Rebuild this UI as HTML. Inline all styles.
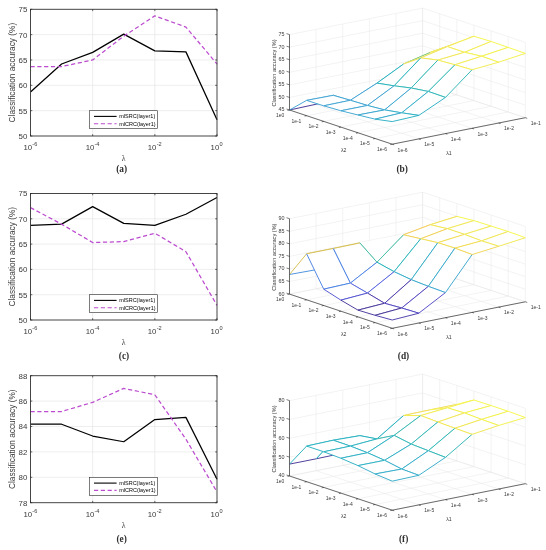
<!DOCTYPE html>
<html><head><meta charset="utf-8"><title>Figure</title>
<style>
html,body{margin:0;padding:0;background:#fff;}
body{width:546px;height:550px;overflow:hidden;}
svg{display:block;filter:blur(0.3px);}
</style></head>
<body>
<svg width="546" height="550" viewBox="0 0 546 550" font-family="'Liberation Sans', Arial, Helvetica, sans-serif">
<rect width="546" height="550" fill="#fff"/>
<line x1="30.5" y1="110.66" x2="217" y2="110.66" stroke="#e3e3e3" stroke-width="0.6"/>
<line x1="30.5" y1="85.32" x2="217" y2="85.32" stroke="#e3e3e3" stroke-width="0.6"/>
<line x1="30.5" y1="59.98" x2="217" y2="59.98" stroke="#e3e3e3" stroke-width="0.6"/>
<line x1="30.5" y1="34.64" x2="217" y2="34.64" stroke="#e3e3e3" stroke-width="0.6"/>
<line x1="92.67" y1="9.3" x2="92.67" y2="136" stroke="#e3e3e3" stroke-width="0.6"/>
<line x1="154.83" y1="9.3" x2="154.83" y2="136" stroke="#e3e3e3" stroke-width="0.6"/>
<polyline points="30.5,91.91 61.58,64.03 92.67,52.38 123.75,34.13 154.83,50.86 185.92,51.87 217,119.78" fill="none" stroke="#000" stroke-width="1.25" stroke-linejoin="round"/>
<polyline points="30.5,66.57 61.58,66.57 92.67,59.98 123.75,36.16 154.83,15.89 185.92,27.04 217,64.03" fill="none" stroke="#bc4ccf" stroke-width="1.25" stroke-dasharray="4.2,2.6" stroke-linejoin="round"/>
<rect x="30.5" y="9.3" width="186.5" height="126.7" fill="none" stroke="#3c3c3c" stroke-width="0.95"/>
<line x1="30.5" y1="136" x2="32.3" y2="136" stroke="#262626" stroke-width="0.7"/>
<line x1="217" y1="136" x2="215.2" y2="136" stroke="#262626" stroke-width="0.7"/>
<text x="27.3" y="138.95" font-size="7.9" text-anchor="end" fill="#3a3a3a">50</text>
<line x1="30.5" y1="110.66" x2="32.3" y2="110.66" stroke="#262626" stroke-width="0.7"/>
<line x1="217" y1="110.66" x2="215.2" y2="110.66" stroke="#262626" stroke-width="0.7"/>
<text x="27.3" y="113.61" font-size="7.9" text-anchor="end" fill="#3a3a3a">55</text>
<line x1="30.5" y1="85.32" x2="32.3" y2="85.32" stroke="#262626" stroke-width="0.7"/>
<line x1="217" y1="85.32" x2="215.2" y2="85.32" stroke="#262626" stroke-width="0.7"/>
<text x="27.3" y="88.27" font-size="7.9" text-anchor="end" fill="#3a3a3a">60</text>
<line x1="30.5" y1="59.98" x2="32.3" y2="59.98" stroke="#262626" stroke-width="0.7"/>
<line x1="217" y1="59.98" x2="215.2" y2="59.98" stroke="#262626" stroke-width="0.7"/>
<text x="27.3" y="62.93" font-size="7.9" text-anchor="end" fill="#3a3a3a">65</text>
<line x1="30.5" y1="34.64" x2="32.3" y2="34.64" stroke="#262626" stroke-width="0.7"/>
<line x1="217" y1="34.64" x2="215.2" y2="34.64" stroke="#262626" stroke-width="0.7"/>
<text x="27.3" y="37.59" font-size="7.9" text-anchor="end" fill="#3a3a3a">70</text>
<line x1="30.5" y1="9.3" x2="32.3" y2="9.3" stroke="#262626" stroke-width="0.7"/>
<line x1="217" y1="9.3" x2="215.2" y2="9.3" stroke="#262626" stroke-width="0.7"/>
<text x="27.3" y="12.25" font-size="7.9" text-anchor="end" fill="#3a3a3a">75</text>
<line x1="30.5" y1="136" x2="30.5" y2="134.2" stroke="#262626" stroke-width="0.7"/>
<line x1="30.5" y1="9.3" x2="30.5" y2="11.1" stroke="#262626" stroke-width="0.7"/>
<text x="27.8" y="150" font-size="7.8" text-anchor="middle" fill="#3a3a3a">10</text>
<text x="32.3" y="146.1" font-size="5.6" text-anchor="start" fill="#3a3a3a">-6</text>
<line x1="92.67" y1="136" x2="92.67" y2="134.2" stroke="#262626" stroke-width="0.7"/>
<line x1="92.67" y1="9.3" x2="92.67" y2="11.1" stroke="#262626" stroke-width="0.7"/>
<text x="89.97" y="150" font-size="7.8" text-anchor="middle" fill="#3a3a3a">10</text>
<text x="94.47" y="146.1" font-size="5.6" text-anchor="start" fill="#3a3a3a">-4</text>
<line x1="154.83" y1="136" x2="154.83" y2="134.2" stroke="#262626" stroke-width="0.7"/>
<line x1="154.83" y1="9.3" x2="154.83" y2="11.1" stroke="#262626" stroke-width="0.7"/>
<text x="152.13" y="150" font-size="7.8" text-anchor="middle" fill="#3a3a3a">10</text>
<text x="156.63" y="146.1" font-size="5.6" text-anchor="start" fill="#3a3a3a">-2</text>
<line x1="217" y1="136" x2="217" y2="134.2" stroke="#262626" stroke-width="0.7"/>
<line x1="217" y1="9.3" x2="217" y2="11.1" stroke="#262626" stroke-width="0.7"/>
<text x="214.9" y="150" font-size="7.8" text-anchor="middle" fill="#3a3a3a">10</text>
<text x="219.4" y="146.1" font-size="5.6" text-anchor="start" fill="#3a3a3a">0</text>
<text x="0" y="0" transform="translate(15.0,72.65) rotate(-90)" font-size="8.3" text-anchor="middle" fill="#3a3a3a">Classification accuracy (%)</text>
<text x="123.6" y="161.2" font-size="7.9" text-anchor="middle" fill="#3a3a3a" font-family="'Liberation Serif', 'Times New Roman', serif">&#955;</text>
<rect x="89.4" y="110.7" width="68" height="17.9" fill="#fff" stroke="#262626" stroke-width="0.6"/>
<line x1="94" y1="116.4" x2="116.6" y2="116.4" stroke="#000" stroke-width="1.1"/>
<line x1="94" y1="123.7" x2="116.6" y2="123.7" stroke="#bc4ccf" stroke-width="1.1" stroke-dasharray="4.2,2.6"/>
<text x="119.2" y="118.4" font-size="5.5" fill="#000">mlSRC(layer1)</text>
<text x="119.2" y="125.7" font-size="5.5" fill="#000">mlCRC(layer1)</text>
<text x="121.6" y="172" font-size="9.4" font-weight="bold" text-anchor="middle" fill="#2e2e2e" font-family="'Liberation Serif', 'Times New Roman', serif">(a)</text>
<line x1="30.5" y1="294.7" x2="217" y2="294.7" stroke="#e3e3e3" stroke-width="0.6"/>
<line x1="30.5" y1="269.4" x2="217" y2="269.4" stroke="#e3e3e3" stroke-width="0.6"/>
<line x1="30.5" y1="244.1" x2="217" y2="244.1" stroke="#e3e3e3" stroke-width="0.6"/>
<line x1="30.5" y1="218.8" x2="217" y2="218.8" stroke="#e3e3e3" stroke-width="0.6"/>
<line x1="92.67" y1="193.5" x2="92.67" y2="320" stroke="#e3e3e3" stroke-width="0.6"/>
<line x1="154.83" y1="193.5" x2="154.83" y2="320" stroke="#e3e3e3" stroke-width="0.6"/>
<polyline points="30.5,225.38 61.58,224.11 92.67,206.66 123.75,223.35 154.83,225.38 185.92,214.25 217,197.55" fill="none" stroke="#000" stroke-width="1.25" stroke-linejoin="round"/>
<polyline points="30.5,207.67 61.58,224.11 92.67,242.58 123.75,241.57 154.83,233.22 185.92,251.69 217,305.33" fill="none" stroke="#bc4ccf" stroke-width="1.25" stroke-dasharray="4.2,2.6" stroke-linejoin="round"/>
<rect x="30.5" y="193.5" width="186.5" height="126.5" fill="none" stroke="#3c3c3c" stroke-width="0.95"/>
<line x1="30.5" y1="320" x2="32.3" y2="320" stroke="#262626" stroke-width="0.7"/>
<line x1="217" y1="320" x2="215.2" y2="320" stroke="#262626" stroke-width="0.7"/>
<text x="27.3" y="322.95" font-size="7.9" text-anchor="end" fill="#3a3a3a">50</text>
<line x1="30.5" y1="294.7" x2="32.3" y2="294.7" stroke="#262626" stroke-width="0.7"/>
<line x1="217" y1="294.7" x2="215.2" y2="294.7" stroke="#262626" stroke-width="0.7"/>
<text x="27.3" y="297.65" font-size="7.9" text-anchor="end" fill="#3a3a3a">55</text>
<line x1="30.5" y1="269.4" x2="32.3" y2="269.4" stroke="#262626" stroke-width="0.7"/>
<line x1="217" y1="269.4" x2="215.2" y2="269.4" stroke="#262626" stroke-width="0.7"/>
<text x="27.3" y="272.35" font-size="7.9" text-anchor="end" fill="#3a3a3a">60</text>
<line x1="30.5" y1="244.1" x2="32.3" y2="244.1" stroke="#262626" stroke-width="0.7"/>
<line x1="217" y1="244.1" x2="215.2" y2="244.1" stroke="#262626" stroke-width="0.7"/>
<text x="27.3" y="247.05" font-size="7.9" text-anchor="end" fill="#3a3a3a">65</text>
<line x1="30.5" y1="218.8" x2="32.3" y2="218.8" stroke="#262626" stroke-width="0.7"/>
<line x1="217" y1="218.8" x2="215.2" y2="218.8" stroke="#262626" stroke-width="0.7"/>
<text x="27.3" y="221.75" font-size="7.9" text-anchor="end" fill="#3a3a3a">70</text>
<line x1="30.5" y1="193.5" x2="32.3" y2="193.5" stroke="#262626" stroke-width="0.7"/>
<line x1="217" y1="193.5" x2="215.2" y2="193.5" stroke="#262626" stroke-width="0.7"/>
<text x="27.3" y="196.45" font-size="7.9" text-anchor="end" fill="#3a3a3a">75</text>
<line x1="30.5" y1="320" x2="30.5" y2="318.2" stroke="#262626" stroke-width="0.7"/>
<line x1="30.5" y1="193.5" x2="30.5" y2="195.3" stroke="#262626" stroke-width="0.7"/>
<text x="27.8" y="334" font-size="7.8" text-anchor="middle" fill="#3a3a3a">10</text>
<text x="32.3" y="330.1" font-size="5.6" text-anchor="start" fill="#3a3a3a">-6</text>
<line x1="92.67" y1="320" x2="92.67" y2="318.2" stroke="#262626" stroke-width="0.7"/>
<line x1="92.67" y1="193.5" x2="92.67" y2="195.3" stroke="#262626" stroke-width="0.7"/>
<text x="89.97" y="334" font-size="7.8" text-anchor="middle" fill="#3a3a3a">10</text>
<text x="94.47" y="330.1" font-size="5.6" text-anchor="start" fill="#3a3a3a">-4</text>
<line x1="154.83" y1="320" x2="154.83" y2="318.2" stroke="#262626" stroke-width="0.7"/>
<line x1="154.83" y1="193.5" x2="154.83" y2="195.3" stroke="#262626" stroke-width="0.7"/>
<text x="152.13" y="334" font-size="7.8" text-anchor="middle" fill="#3a3a3a">10</text>
<text x="156.63" y="330.1" font-size="5.6" text-anchor="start" fill="#3a3a3a">-2</text>
<line x1="217" y1="320" x2="217" y2="318.2" stroke="#262626" stroke-width="0.7"/>
<line x1="217" y1="193.5" x2="217" y2="195.3" stroke="#262626" stroke-width="0.7"/>
<text x="214.9" y="334" font-size="7.8" text-anchor="middle" fill="#3a3a3a">10</text>
<text x="219.4" y="330.1" font-size="5.6" text-anchor="start" fill="#3a3a3a">0</text>
<text x="0" y="0" transform="translate(15.0,256.75) rotate(-90)" font-size="8.3" text-anchor="middle" fill="#3a3a3a">Classification accuracy (%)</text>
<text x="123.6" y="345.2" font-size="7.9" text-anchor="middle" fill="#3a3a3a" font-family="'Liberation Serif', 'Times New Roman', serif">&#955;</text>
<rect x="89.4" y="294.7" width="68" height="17.9" fill="#fff" stroke="#262626" stroke-width="0.6"/>
<line x1="94" y1="300.4" x2="116.6" y2="300.4" stroke="#000" stroke-width="1.1"/>
<line x1="94" y1="307.7" x2="116.6" y2="307.7" stroke="#bc4ccf" stroke-width="1.1" stroke-dasharray="4.2,2.6"/>
<text x="119.2" y="302.4" font-size="5.5" fill="#000">mlSRC(layer1)</text>
<text x="119.2" y="309.7" font-size="5.5" fill="#000">mlCRC(layer1)</text>
<text x="124" y="359" font-size="9.4" font-weight="bold" text-anchor="middle" fill="#2e2e2e" font-family="'Liberation Serif', 'Times New Roman', serif">(c)</text>
<line x1="30.5" y1="477.3" x2="217" y2="477.3" stroke="#e3e3e3" stroke-width="0.6"/>
<line x1="30.5" y1="451.9" x2="217" y2="451.9" stroke="#e3e3e3" stroke-width="0.6"/>
<line x1="30.5" y1="426.5" x2="217" y2="426.5" stroke="#e3e3e3" stroke-width="0.6"/>
<line x1="30.5" y1="401.1" x2="217" y2="401.1" stroke="#e3e3e3" stroke-width="0.6"/>
<line x1="92.67" y1="375.7" x2="92.67" y2="502.7" stroke="#e3e3e3" stroke-width="0.6"/>
<line x1="154.83" y1="375.7" x2="154.83" y2="502.7" stroke="#e3e3e3" stroke-width="0.6"/>
<polyline points="30.5,424.21 61.58,424.21 92.67,436.02 123.75,441.74 154.83,419.51 185.92,417.36 217,479.33" fill="none" stroke="#000" stroke-width="1.25" stroke-linejoin="round"/>
<polyline points="30.5,411.51 61.58,411.51 92.67,402.37 123.75,388.4 154.83,394.75 185.92,439.2 217,491.91" fill="none" stroke="#bc4ccf" stroke-width="1.25" stroke-dasharray="4.2,2.6" stroke-linejoin="round"/>
<rect x="30.5" y="375.7" width="186.5" height="127" fill="none" stroke="#3c3c3c" stroke-width="0.95"/>
<line x1="30.5" y1="502.7" x2="32.3" y2="502.7" stroke="#262626" stroke-width="0.7"/>
<line x1="217" y1="502.7" x2="215.2" y2="502.7" stroke="#262626" stroke-width="0.7"/>
<text x="27.3" y="505.65" font-size="7.9" text-anchor="end" fill="#3a3a3a">78</text>
<line x1="30.5" y1="477.3" x2="32.3" y2="477.3" stroke="#262626" stroke-width="0.7"/>
<line x1="217" y1="477.3" x2="215.2" y2="477.3" stroke="#262626" stroke-width="0.7"/>
<text x="27.3" y="480.25" font-size="7.9" text-anchor="end" fill="#3a3a3a">80</text>
<line x1="30.5" y1="451.9" x2="32.3" y2="451.9" stroke="#262626" stroke-width="0.7"/>
<line x1="217" y1="451.9" x2="215.2" y2="451.9" stroke="#262626" stroke-width="0.7"/>
<text x="27.3" y="454.85" font-size="7.9" text-anchor="end" fill="#3a3a3a">82</text>
<line x1="30.5" y1="426.5" x2="32.3" y2="426.5" stroke="#262626" stroke-width="0.7"/>
<line x1="217" y1="426.5" x2="215.2" y2="426.5" stroke="#262626" stroke-width="0.7"/>
<text x="27.3" y="429.45" font-size="7.9" text-anchor="end" fill="#3a3a3a">84</text>
<line x1="30.5" y1="401.1" x2="32.3" y2="401.1" stroke="#262626" stroke-width="0.7"/>
<line x1="217" y1="401.1" x2="215.2" y2="401.1" stroke="#262626" stroke-width="0.7"/>
<text x="27.3" y="404.05" font-size="7.9" text-anchor="end" fill="#3a3a3a">86</text>
<line x1="30.5" y1="375.7" x2="32.3" y2="375.7" stroke="#262626" stroke-width="0.7"/>
<line x1="217" y1="375.7" x2="215.2" y2="375.7" stroke="#262626" stroke-width="0.7"/>
<text x="27.3" y="378.65" font-size="7.9" text-anchor="end" fill="#3a3a3a">88</text>
<line x1="30.5" y1="502.7" x2="30.5" y2="500.9" stroke="#262626" stroke-width="0.7"/>
<line x1="30.5" y1="375.7" x2="30.5" y2="377.5" stroke="#262626" stroke-width="0.7"/>
<text x="27.8" y="516.7" font-size="7.8" text-anchor="middle" fill="#3a3a3a">10</text>
<text x="32.3" y="512.8" font-size="5.6" text-anchor="start" fill="#3a3a3a">-6</text>
<line x1="92.67" y1="502.7" x2="92.67" y2="500.9" stroke="#262626" stroke-width="0.7"/>
<line x1="92.67" y1="375.7" x2="92.67" y2="377.5" stroke="#262626" stroke-width="0.7"/>
<text x="89.97" y="516.7" font-size="7.8" text-anchor="middle" fill="#3a3a3a">10</text>
<text x="94.47" y="512.8" font-size="5.6" text-anchor="start" fill="#3a3a3a">-4</text>
<line x1="154.83" y1="502.7" x2="154.83" y2="500.9" stroke="#262626" stroke-width="0.7"/>
<line x1="154.83" y1="375.7" x2="154.83" y2="377.5" stroke="#262626" stroke-width="0.7"/>
<text x="152.13" y="516.7" font-size="7.8" text-anchor="middle" fill="#3a3a3a">10</text>
<text x="156.63" y="512.8" font-size="5.6" text-anchor="start" fill="#3a3a3a">-2</text>
<line x1="217" y1="502.7" x2="217" y2="500.9" stroke="#262626" stroke-width="0.7"/>
<line x1="217" y1="375.7" x2="217" y2="377.5" stroke="#262626" stroke-width="0.7"/>
<text x="214.9" y="516.7" font-size="7.8" text-anchor="middle" fill="#3a3a3a">10</text>
<text x="219.4" y="512.8" font-size="5.6" text-anchor="start" fill="#3a3a3a">0</text>
<text x="0" y="0" transform="translate(15.0,439.2) rotate(-90)" font-size="8.3" text-anchor="middle" fill="#3a3a3a">Classification accuracy (%)</text>
<text x="123.6" y="527.6" font-size="7.9" text-anchor="middle" fill="#3a3a3a" font-family="'Liberation Serif', 'Times New Roman', serif">&#955;</text>
<rect x="89.4" y="477.4" width="68" height="17.9" fill="#fff" stroke="#262626" stroke-width="0.6"/>
<line x1="94" y1="483.1" x2="116.6" y2="483.1" stroke="#000" stroke-width="1.1"/>
<line x1="94" y1="490.4" x2="116.6" y2="490.4" stroke="#bc4ccf" stroke-width="1.1" stroke-dasharray="4.2,2.6"/>
<text x="119.2" y="485.1" font-size="5.5" fill="#000">mlSRC(layer1)</text>
<text x="119.2" y="492.4" font-size="5.5" fill="#000">mlCRC(layer1)</text>
<text x="121.6" y="542" font-size="9.4" font-weight="bold" text-anchor="middle" fill="#2e2e2e" font-family="'Liberation Serif', 'Times New Roman', serif">(e)</text>
<line x1="289.5" y1="110" x2="289.5" y2="34.6" stroke="#e6e6e6" stroke-width="0.5"/>
<line x1="316.12" y1="104.7" x2="316.12" y2="29.3" stroke="#e6e6e6" stroke-width="0.5"/>
<line x1="342.74" y1="99.4" x2="342.74" y2="24" stroke="#e6e6e6" stroke-width="0.5"/>
<line x1="369.36" y1="94.1" x2="369.36" y2="18.7" stroke="#e6e6e6" stroke-width="0.5"/>
<line x1="395.98" y1="88.8" x2="395.98" y2="13.4" stroke="#e6e6e6" stroke-width="0.5"/>
<line x1="422.6" y1="83.5" x2="422.6" y2="8.1" stroke="#e6e6e6" stroke-width="0.5"/>
<line x1="289.5" y1="110" x2="422.6" y2="83.5" stroke="#e6e6e6" stroke-width="0.5"/>
<line x1="289.5" y1="97.43" x2="422.6" y2="70.93" stroke="#e6e6e6" stroke-width="0.5"/>
<line x1="289.5" y1="84.87" x2="422.6" y2="58.37" stroke="#e6e6e6" stroke-width="0.5"/>
<line x1="289.5" y1="72.3" x2="422.6" y2="45.8" stroke="#e6e6e6" stroke-width="0.5"/>
<line x1="289.5" y1="59.73" x2="422.6" y2="33.23" stroke="#e6e6e6" stroke-width="0.5"/>
<line x1="289.5" y1="47.17" x2="422.6" y2="20.67" stroke="#e6e6e6" stroke-width="0.5"/>
<line x1="289.5" y1="34.6" x2="422.6" y2="8.1" stroke="#e6e6e6" stroke-width="0.5"/>
<line x1="422.6" y1="83.5" x2="422.6" y2="8.1" stroke="#e6e6e6" stroke-width="0.5"/>
<line x1="439.72" y1="89.2" x2="439.72" y2="13.8" stroke="#e6e6e6" stroke-width="0.5"/>
<line x1="456.84" y1="94.9" x2="456.84" y2="19.5" stroke="#e6e6e6" stroke-width="0.5"/>
<line x1="473.96" y1="100.6" x2="473.96" y2="25.2" stroke="#e6e6e6" stroke-width="0.5"/>
<line x1="491.08" y1="106.3" x2="491.08" y2="30.9" stroke="#e6e6e6" stroke-width="0.5"/>
<line x1="508.2" y1="112" x2="508.2" y2="36.6" stroke="#e6e6e6" stroke-width="0.5"/>
<line x1="525.32" y1="117.7" x2="525.32" y2="42.3" stroke="#e6e6e6" stroke-width="0.5"/>
<line x1="422.6" y1="83.5" x2="525.32" y2="117.7" stroke="#e6e6e6" stroke-width="0.5"/>
<line x1="422.6" y1="70.93" x2="525.32" y2="105.13" stroke="#e6e6e6" stroke-width="0.5"/>
<line x1="422.6" y1="58.37" x2="525.32" y2="92.57" stroke="#e6e6e6" stroke-width="0.5"/>
<line x1="422.6" y1="45.8" x2="525.32" y2="80" stroke="#e6e6e6" stroke-width="0.5"/>
<line x1="422.6" y1="33.23" x2="525.32" y2="67.43" stroke="#e6e6e6" stroke-width="0.5"/>
<line x1="422.6" y1="20.67" x2="525.32" y2="54.87" stroke="#e6e6e6" stroke-width="0.5"/>
<line x1="422.6" y1="8.1" x2="525.32" y2="42.3" stroke="#e6e6e6" stroke-width="0.5"/>
<line x1="289.5" y1="110" x2="392.22" y2="144.2" stroke="#e6e6e6" stroke-width="0.5"/>
<line x1="316.12" y1="104.7" x2="418.84" y2="138.9" stroke="#e6e6e6" stroke-width="0.5"/>
<line x1="342.74" y1="99.4" x2="445.46" y2="133.6" stroke="#e6e6e6" stroke-width="0.5"/>
<line x1="369.36" y1="94.1" x2="472.08" y2="128.3" stroke="#e6e6e6" stroke-width="0.5"/>
<line x1="395.98" y1="88.8" x2="498.7" y2="123" stroke="#e6e6e6" stroke-width="0.5"/>
<line x1="422.6" y1="83.5" x2="525.32" y2="117.7" stroke="#e6e6e6" stroke-width="0.5"/>
<line x1="289.5" y1="110" x2="422.6" y2="83.5" stroke="#e6e6e6" stroke-width="0.5"/>
<line x1="306.62" y1="115.7" x2="439.72" y2="89.2" stroke="#e6e6e6" stroke-width="0.5"/>
<line x1="323.74" y1="121.4" x2="456.84" y2="94.9" stroke="#e6e6e6" stroke-width="0.5"/>
<line x1="340.86" y1="127.1" x2="473.96" y2="100.6" stroke="#e6e6e6" stroke-width="0.5"/>
<line x1="357.98" y1="132.8" x2="491.08" y2="106.3" stroke="#e6e6e6" stroke-width="0.5"/>
<line x1="375.1" y1="138.5" x2="508.2" y2="112" stroke="#e6e6e6" stroke-width="0.5"/>
<line x1="392.22" y1="144.2" x2="525.32" y2="117.7" stroke="#e6e6e6" stroke-width="0.5"/>
<path d="M395.98,88.8 L422.6,83.5 L439.72,87.94ZM395.98,88.8 L439.72,87.94 L413.1,93.24Z" fill="#fff" stroke="#fff" stroke-width="0.3"/>
<line x1="395.98" y1="88.8" x2="422.6" y2="83.5" stroke="#3d2b93" stroke-width="0.9"/>
<line x1="413.1" y1="93.24" x2="439.72" y2="87.94" stroke="#4233a7" stroke-width="0.9"/>
<line x1="395.98" y1="88.8" x2="413.1" y2="93.24" stroke="#4233a7" stroke-width="0.9"/>
<line x1="422.6" y1="83.5" x2="439.72" y2="87.94" stroke="#4233a7" stroke-width="0.9"/>
<path d="M369.36,94.1 L395.98,88.8 L413.1,93.24ZM369.36,94.1 L413.1,93.24 L386.48,98.54Z" fill="#fff" stroke="#fff" stroke-width="0.3"/>
<line x1="369.36" y1="94.1" x2="395.98" y2="88.8" stroke="#3d2b93" stroke-width="0.9"/>
<line x1="386.48" y1="98.54" x2="413.1" y2="93.24" stroke="#4233a7" stroke-width="0.9"/>
<line x1="369.36" y1="94.1" x2="386.48" y2="98.54" stroke="#4233a7" stroke-width="0.9"/>
<line x1="395.98" y1="88.8" x2="413.1" y2="93.24" stroke="#4233a7" stroke-width="0.9"/>
<path d="M413.1,93.24 L456.84,42.87 L439.72,87.94ZM413.1,93.24 L430.22,52.45 L456.84,42.87Z" fill="#fff" stroke="#fff" stroke-width="0.3"/>
<line x1="413.1" y1="93.24" x2="439.72" y2="87.94" stroke="#4233a7" stroke-width="0.9"/>
<line x1="430.22" y1="52.45" x2="456.84" y2="42.87" stroke="#f1d44d" stroke-width="0.9"/>
<line x1="413.1" y1="93.24" x2="430.22" y2="52.45" stroke="#f1d44d" stroke-width="0.9"/>
<line x1="439.72" y1="87.94" x2="456.84" y2="42.87" stroke="#eee04a" stroke-width="0.9"/>
<path d="M342.74,99.4 L369.36,94.1 L386.48,98.54ZM342.74,99.4 L386.48,98.54 L359.86,104.35Z" fill="#fff" stroke="#fff" stroke-width="0.3"/>
<line x1="342.74" y1="99.4" x2="369.36" y2="94.1" stroke="#3d2b93" stroke-width="0.9"/>
<line x1="359.86" y1="104.35" x2="386.48" y2="98.54" stroke="#402f9d" stroke-width="0.9"/>
<line x1="342.74" y1="99.4" x2="359.86" y2="104.35" stroke="#402f9d" stroke-width="0.9"/>
<line x1="369.36" y1="94.1" x2="386.48" y2="98.54" stroke="#4233a7" stroke-width="0.9"/>
<path d="M386.48,98.54 L430.22,52.45 L413.1,93.24ZM386.48,98.54 L403.6,64.03 L430.22,52.45Z" fill="#fff" stroke="#fff" stroke-width="0.3"/>
<line x1="386.48" y1="98.54" x2="413.1" y2="93.24" stroke="#4233a7" stroke-width="0.9"/>
<line x1="403.6" y1="64.03" x2="430.22" y2="52.45" stroke="#7cc571" stroke-width="0.9"/>
<line x1="386.48" y1="98.54" x2="403.6" y2="64.03" stroke="#7cc571" stroke-width="0.9"/>
<line x1="413.1" y1="93.24" x2="430.22" y2="52.45" stroke="#f1d44d" stroke-width="0.9"/>
<path d="M316.12,104.2 L342.74,99.4 L359.86,104.35ZM316.12,104.2 L333.24,95.32 L359.86,104.35Z" fill="#fff" stroke="#fff" stroke-width="0.3"/>
<line x1="316.12" y1="104.2" x2="342.74" y2="99.4" stroke="#3d2b93" stroke-width="0.9"/>
<line x1="333.24" y1="95.32" x2="359.86" y2="104.35" stroke="#349ed0" stroke-width="0.9"/>
<line x1="316.12" y1="104.2" x2="333.24" y2="95.32" stroke="#349ed0" stroke-width="0.9"/>
<line x1="342.74" y1="99.4" x2="359.86" y2="104.35" stroke="#402f9d" stroke-width="0.9"/>
<path d="M430.22,52.45 L473.96,36.26 L456.84,42.87ZM430.22,52.45 L473.96,36.26 L447.34,46.59Z" fill="#fff" stroke="#fff" stroke-width="0.3"/>
<line x1="430.22" y1="52.45" x2="456.84" y2="42.87" stroke="#f1d44d" stroke-width="0.9"/>
<line x1="447.34" y1="46.59" x2="473.96" y2="36.26" stroke="#f0eb45" stroke-width="0.9"/>
<line x1="430.22" y1="52.45" x2="447.34" y2="46.59" stroke="#f0eb45" stroke-width="0.9"/>
<line x1="456.84" y1="42.87" x2="473.96" y2="36.26" stroke="#f4f63d" stroke-width="0.9"/>
<path d="M359.86,104.35 L403.6,64.03 L386.48,98.54ZM359.86,104.35 L376.98,83.15 L403.6,64.03Z" fill="#fff" stroke="#fff" stroke-width="0.3"/>
<line x1="359.86" y1="104.35" x2="386.48" y2="98.54" stroke="#402f9d" stroke-width="0.9"/>
<line x1="376.98" y1="83.15" x2="403.6" y2="64.03" stroke="#1badbc" stroke-width="0.9"/>
<line x1="359.86" y1="104.35" x2="376.98" y2="83.15" stroke="#1badbc" stroke-width="0.9"/>
<line x1="386.48" y1="98.54" x2="403.6" y2="64.03" stroke="#7cc571" stroke-width="0.9"/>
<path d="M289.5,110 L333.24,95.32 L316.12,104.2ZM289.5,110 L306.62,100.37 L333.24,95.32Z" fill="#fff" stroke="#fff" stroke-width="0.3"/>
<line x1="289.5" y1="110" x2="316.12" y2="104.2" stroke="#3d2b93" stroke-width="0.9"/>
<line x1="306.62" y1="100.37" x2="333.24" y2="95.32" stroke="#349ed0" stroke-width="0.9"/>
<line x1="289.5" y1="110" x2="306.62" y2="100.37" stroke="#349ed0" stroke-width="0.9"/>
<line x1="316.12" y1="104.2" x2="333.24" y2="95.32" stroke="#349ed0" stroke-width="0.9"/>
<path d="M403.6,64.03 L430.22,52.45 L447.34,46.59ZM403.6,64.03 L447.34,46.59 L420.72,57.92Z" fill="#fff" stroke="#fff" stroke-width="0.3"/>
<line x1="403.6" y1="64.03" x2="430.22" y2="52.45" stroke="#7cc571" stroke-width="0.9"/>
<line x1="420.72" y1="57.92" x2="447.34" y2="46.59" stroke="#eee04a" stroke-width="0.9"/>
<line x1="403.6" y1="64.03" x2="420.72" y2="57.92" stroke="#eee04a" stroke-width="0.9"/>
<line x1="430.22" y1="52.45" x2="447.34" y2="46.59" stroke="#f0eb45" stroke-width="0.9"/>
<path d="M333.24,95.32 L376.98,83.15 L359.86,104.35ZM333.24,95.32 L376.98,83.15 L350.36,100.27Z" fill="#fff" stroke="#fff" stroke-width="0.3"/>
<line x1="333.24" y1="95.32" x2="359.86" y2="104.35" stroke="#349ed0" stroke-width="0.9"/>
<line x1="350.36" y1="100.27" x2="376.98" y2="83.15" stroke="#349ed0" stroke-width="0.9"/>
<line x1="333.24" y1="95.32" x2="350.36" y2="100.27" stroke="#349ed0" stroke-width="0.9"/>
<line x1="359.86" y1="104.35" x2="376.98" y2="83.15" stroke="#1badbc" stroke-width="0.9"/>
<path d="M447.34,46.59 L473.96,36.26 L491.08,41.46ZM447.34,46.59 L491.08,41.46 L464.46,52.29Z" fill="#fff" stroke="#fff" stroke-width="0.3"/>
<line x1="447.34" y1="46.59" x2="473.96" y2="36.26" stroke="#f0eb45" stroke-width="0.9"/>
<line x1="464.46" y1="52.29" x2="491.08" y2="41.46" stroke="#f0eb45" stroke-width="0.9"/>
<line x1="447.34" y1="46.59" x2="464.46" y2="52.29" stroke="#f0eb45" stroke-width="0.9"/>
<line x1="473.96" y1="36.26" x2="491.08" y2="41.46" stroke="#f4f63d" stroke-width="0.9"/>
<path d="M376.98,83.15 L403.6,64.03 L420.72,57.92ZM376.98,83.15 L420.72,57.92 L394.1,85.84Z" fill="#fff" stroke="#fff" stroke-width="0.3"/>
<line x1="376.98" y1="83.15" x2="403.6" y2="64.03" stroke="#1badbc" stroke-width="0.9"/>
<line x1="394.1" y1="85.84" x2="420.72" y2="57.92" stroke="#1cb0b7" stroke-width="0.9"/>
<line x1="376.98" y1="83.15" x2="394.1" y2="85.84" stroke="#1cb0b7" stroke-width="0.9"/>
<line x1="403.6" y1="64.03" x2="420.72" y2="57.92" stroke="#eee04a" stroke-width="0.9"/>
<path d="M306.62,100.37 L333.24,95.32 L350.36,100.27ZM306.62,100.37 L350.36,100.27 L323.74,105.82Z" fill="#fff" stroke="#fff" stroke-width="0.3"/>
<line x1="306.62" y1="100.37" x2="333.24" y2="95.32" stroke="#349ed0" stroke-width="0.9"/>
<line x1="323.74" y1="105.82" x2="350.36" y2="100.27" stroke="#349ed0" stroke-width="0.9"/>
<line x1="306.62" y1="100.37" x2="323.74" y2="105.82" stroke="#349ed0" stroke-width="0.9"/>
<line x1="333.24" y1="95.32" x2="350.36" y2="100.27" stroke="#349ed0" stroke-width="0.9"/>
<path d="M420.72,57.92 L447.34,46.59 L464.46,52.29ZM420.72,57.92 L464.46,52.29 L437.84,60.1Z" fill="#fff" stroke="#fff" stroke-width="0.3"/>
<line x1="420.72" y1="57.92" x2="447.34" y2="46.59" stroke="#eee04a" stroke-width="0.9"/>
<line x1="437.84" y1="60.1" x2="464.46" y2="52.29" stroke="#efe548" stroke-width="0.9"/>
<line x1="420.72" y1="57.92" x2="437.84" y2="60.1" stroke="#efe548" stroke-width="0.9"/>
<line x1="447.34" y1="46.59" x2="464.46" y2="52.29" stroke="#f0eb45" stroke-width="0.9"/>
<path d="M350.36,100.27 L376.98,83.15 L394.1,85.84ZM350.36,100.27 L394.1,85.84 L367.48,105.46Z" fill="#fff" stroke="#fff" stroke-width="0.3"/>
<line x1="350.36" y1="100.27" x2="376.98" y2="83.15" stroke="#349ed0" stroke-width="0.9"/>
<line x1="367.48" y1="105.46" x2="394.1" y2="85.84" stroke="#349ed0" stroke-width="0.9"/>
<line x1="350.36" y1="100.27" x2="367.48" y2="105.46" stroke="#349ed0" stroke-width="0.9"/>
<line x1="376.98" y1="83.15" x2="394.1" y2="85.84" stroke="#1cb0b7" stroke-width="0.9"/>
<path d="M464.46,52.29 L491.08,41.46 L508.2,47.41ZM464.46,52.29 L508.2,47.41 L481.58,56.23Z" fill="#fff" stroke="#fff" stroke-width="0.3"/>
<line x1="464.46" y1="52.29" x2="491.08" y2="41.46" stroke="#f0eb45" stroke-width="0.9"/>
<line x1="481.58" y1="56.23" x2="508.2" y2="47.41" stroke="#f2f042" stroke-width="0.9"/>
<line x1="464.46" y1="52.29" x2="481.58" y2="56.23" stroke="#f2f042" stroke-width="0.9"/>
<line x1="491.08" y1="41.46" x2="508.2" y2="47.41" stroke="#f4f63d" stroke-width="0.9"/>
<path d="M394.1,85.84 L420.72,57.92 L437.84,60.1ZM394.1,85.84 L437.84,60.1 L411.22,88.02Z" fill="#fff" stroke="#fff" stroke-width="0.3"/>
<line x1="394.1" y1="85.84" x2="420.72" y2="57.92" stroke="#1cb0b7" stroke-width="0.9"/>
<line x1="411.22" y1="88.02" x2="437.84" y2="60.1" stroke="#24b2b2" stroke-width="0.9"/>
<line x1="394.1" y1="85.84" x2="411.22" y2="88.02" stroke="#24b2b2" stroke-width="0.9"/>
<line x1="420.72" y1="57.92" x2="437.84" y2="60.1" stroke="#efe548" stroke-width="0.9"/>
<path d="M323.74,105.82 L350.36,100.27 L367.48,105.46ZM323.74,105.82 L367.48,105.46 L340.86,110.76Z" fill="#fff" stroke="#fff" stroke-width="0.3"/>
<line x1="323.74" y1="105.82" x2="350.36" y2="100.27" stroke="#349ed0" stroke-width="0.9"/>
<line x1="340.86" y1="110.76" x2="367.48" y2="105.46" stroke="#349ed0" stroke-width="0.9"/>
<line x1="323.74" y1="105.82" x2="340.86" y2="110.76" stroke="#349ed0" stroke-width="0.9"/>
<line x1="350.36" y1="100.27" x2="367.48" y2="105.46" stroke="#349ed0" stroke-width="0.9"/>
<path d="M437.84,60.1 L464.46,52.29 L481.58,56.23ZM437.84,60.1 L481.58,56.23 L454.96,64.79Z" fill="#fff" stroke="#fff" stroke-width="0.3"/>
<line x1="437.84" y1="60.1" x2="464.46" y2="52.29" stroke="#efe548" stroke-width="0.9"/>
<line x1="454.96" y1="64.79" x2="481.58" y2="56.23" stroke="#f0eb45" stroke-width="0.9"/>
<line x1="437.84" y1="60.1" x2="454.96" y2="64.79" stroke="#f0eb45" stroke-width="0.9"/>
<line x1="464.46" y1="52.29" x2="481.58" y2="56.23" stroke="#f2f042" stroke-width="0.9"/>
<path d="M367.48,105.46 L394.1,85.84 L411.22,88.02ZM367.48,105.46 L411.22,88.02 L384.6,109.91Z" fill="#fff" stroke="#fff" stroke-width="0.3"/>
<line x1="367.48" y1="105.46" x2="394.1" y2="85.84" stroke="#349ed0" stroke-width="0.9"/>
<line x1="384.6" y1="109.91" x2="411.22" y2="88.02" stroke="#31a2cd" stroke-width="0.9"/>
<line x1="367.48" y1="105.46" x2="384.6" y2="109.91" stroke="#31a2cd" stroke-width="0.9"/>
<line x1="394.1" y1="85.84" x2="411.22" y2="88.02" stroke="#24b2b2" stroke-width="0.9"/>
<path d="M481.58,56.23 L508.2,47.41 L525.32,53.36ZM481.58,56.23 L525.32,53.36 L498.7,62.18Z" fill="#fff" stroke="#fff" stroke-width="0.3"/>
<line x1="481.58" y1="56.23" x2="508.2" y2="47.41" stroke="#f2f042" stroke-width="0.9"/>
<line x1="498.7" y1="62.18" x2="525.32" y2="53.36" stroke="#f2f042" stroke-width="0.9"/>
<line x1="481.58" y1="56.23" x2="498.7" y2="62.18" stroke="#f2f042" stroke-width="0.9"/>
<line x1="508.2" y1="47.41" x2="525.32" y2="53.36" stroke="#f4f63d" stroke-width="0.9"/>
<path d="M411.22,88.02 L437.84,60.1 L454.96,64.79ZM411.22,88.02 L454.96,64.79 L428.34,91.46Z" fill="#fff" stroke="#fff" stroke-width="0.3"/>
<line x1="411.22" y1="88.02" x2="437.84" y2="60.1" stroke="#24b2b2" stroke-width="0.9"/>
<line x1="428.34" y1="91.46" x2="454.96" y2="64.79" stroke="#24b2b2" stroke-width="0.9"/>
<line x1="411.22" y1="88.02" x2="428.34" y2="91.46" stroke="#24b2b2" stroke-width="0.9"/>
<line x1="437.84" y1="60.1" x2="454.96" y2="64.79" stroke="#f0eb45" stroke-width="0.9"/>
<path d="M340.86,110.76 L367.48,105.46 L384.6,109.91ZM340.86,110.76 L384.6,109.91 L357.98,114.96Z" fill="#fff" stroke="#fff" stroke-width="0.3"/>
<line x1="340.86" y1="110.76" x2="367.48" y2="105.46" stroke="#349ed0" stroke-width="0.9"/>
<line x1="357.98" y1="114.96" x2="384.6" y2="109.91" stroke="#31a2cd" stroke-width="0.9"/>
<line x1="340.86" y1="110.76" x2="357.98" y2="114.96" stroke="#31a2cd" stroke-width="0.9"/>
<line x1="367.48" y1="105.46" x2="384.6" y2="109.91" stroke="#31a2cd" stroke-width="0.9"/>
<path d="M454.96,64.79 L481.58,56.23 L498.7,62.18ZM454.96,64.79 L498.7,62.18 L472.08,69.74Z" fill="#fff" stroke="#fff" stroke-width="0.3"/>
<line x1="454.96" y1="64.79" x2="481.58" y2="56.23" stroke="#f0eb45" stroke-width="0.9"/>
<line x1="472.08" y1="69.74" x2="498.7" y2="62.18" stroke="#f0eb45" stroke-width="0.9"/>
<line x1="454.96" y1="64.79" x2="472.08" y2="69.74" stroke="#f0eb45" stroke-width="0.9"/>
<line x1="481.58" y1="56.23" x2="498.7" y2="62.18" stroke="#f2f042" stroke-width="0.9"/>
<path d="M384.6,109.91 L411.22,88.02 L428.34,91.46ZM384.6,109.91 L428.34,91.46 L401.72,112.84Z" fill="#fff" stroke="#fff" stroke-width="0.3"/>
<line x1="384.6" y1="109.91" x2="411.22" y2="88.02" stroke="#31a2cd" stroke-width="0.9"/>
<line x1="401.72" y1="112.84" x2="428.34" y2="91.46" stroke="#29a8c6" stroke-width="0.9"/>
<line x1="384.6" y1="109.91" x2="401.72" y2="112.84" stroke="#29a8c6" stroke-width="0.9"/>
<line x1="411.22" y1="88.02" x2="428.34" y2="91.46" stroke="#24b2b2" stroke-width="0.9"/>
<path d="M428.34,91.46 L454.96,64.79 L472.08,69.74ZM428.34,91.46 L472.08,69.74 L445.46,97.41Z" fill="#fff" stroke="#fff" stroke-width="0.3"/>
<line x1="428.34" y1="91.46" x2="454.96" y2="64.79" stroke="#24b2b2" stroke-width="0.9"/>
<line x1="445.46" y1="97.41" x2="472.08" y2="69.74" stroke="#24b2b2" stroke-width="0.9"/>
<line x1="428.34" y1="91.46" x2="445.46" y2="97.41" stroke="#24b2b2" stroke-width="0.9"/>
<line x1="454.96" y1="64.79" x2="472.08" y2="69.74" stroke="#f0eb45" stroke-width="0.9"/>
<path d="M357.98,114.96 L384.6,109.91 L401.72,112.84ZM357.98,114.96 L401.72,112.84 L375.1,119.15Z" fill="#fff" stroke="#fff" stroke-width="0.3"/>
<line x1="357.98" y1="114.96" x2="384.6" y2="109.91" stroke="#31a2cd" stroke-width="0.9"/>
<line x1="375.1" y1="119.15" x2="401.72" y2="112.84" stroke="#2ea5ca" stroke-width="0.9"/>
<line x1="357.98" y1="114.96" x2="375.1" y2="119.15" stroke="#2ea5ca" stroke-width="0.9"/>
<line x1="384.6" y1="109.91" x2="401.72" y2="112.84" stroke="#29a8c6" stroke-width="0.9"/>
<path d="M401.72,112.84 L428.34,91.46 L445.46,97.41ZM401.72,112.84 L445.46,97.41 L418.84,115.4Z" fill="#fff" stroke="#fff" stroke-width="0.3"/>
<line x1="401.72" y1="112.84" x2="428.34" y2="91.46" stroke="#29a8c6" stroke-width="0.9"/>
<line x1="418.84" y1="115.4" x2="445.46" y2="97.41" stroke="#20abc1" stroke-width="0.9"/>
<line x1="401.72" y1="112.84" x2="418.84" y2="115.4" stroke="#20abc1" stroke-width="0.9"/>
<line x1="428.34" y1="91.46" x2="445.46" y2="97.41" stroke="#24b2b2" stroke-width="0.9"/>
<path d="M375.1,119.15 L401.72,112.84 L418.84,115.4ZM375.1,119.15 L418.84,115.4 L392.22,121.58Z" fill="#fff" stroke="#fff" stroke-width="0.3"/>
<line x1="375.1" y1="119.15" x2="401.72" y2="112.84" stroke="#2ea5ca" stroke-width="0.9"/>
<line x1="392.22" y1="121.58" x2="418.84" y2="115.4" stroke="#20abc1" stroke-width="0.9"/>
<line x1="375.1" y1="119.15" x2="392.22" y2="121.58" stroke="#20abc1" stroke-width="0.9"/>
<line x1="401.72" y1="112.84" x2="418.84" y2="115.4" stroke="#20abc1" stroke-width="0.9"/>
<line x1="289.5" y1="110" x2="289.5" y2="34.6" stroke="#5a5a5a" stroke-width="0.9"/>
<line x1="289.5" y1="110" x2="392.22" y2="144.2" stroke="#5a5a5a" stroke-width="0.9"/>
<line x1="392.22" y1="144.2" x2="525.32" y2="117.7" stroke="#5a5a5a" stroke-width="0.9"/>
<line x1="289.5" y1="110" x2="286.5" y2="109" stroke="#262626" stroke-width="0.6"/>
<text x="284.6" y="111.4" font-size="5.4" text-anchor="end" fill="#3a3a3a">45</text>
<line x1="289.5" y1="97.43" x2="286.5" y2="96.43" stroke="#262626" stroke-width="0.6"/>
<text x="284.6" y="98.83" font-size="5.4" text-anchor="end" fill="#3a3a3a">50</text>
<line x1="289.5" y1="84.87" x2="286.5" y2="83.87" stroke="#262626" stroke-width="0.6"/>
<text x="284.6" y="86.27" font-size="5.4" text-anchor="end" fill="#3a3a3a">55</text>
<line x1="289.5" y1="72.3" x2="286.5" y2="71.3" stroke="#262626" stroke-width="0.6"/>
<text x="284.6" y="73.7" font-size="5.4" text-anchor="end" fill="#3a3a3a">60</text>
<line x1="289.5" y1="59.73" x2="286.5" y2="58.73" stroke="#262626" stroke-width="0.6"/>
<text x="284.6" y="61.13" font-size="5.4" text-anchor="end" fill="#3a3a3a">65</text>
<line x1="289.5" y1="47.17" x2="286.5" y2="46.17" stroke="#262626" stroke-width="0.6"/>
<text x="284.6" y="48.57" font-size="5.4" text-anchor="end" fill="#3a3a3a">70</text>
<line x1="289.5" y1="34.6" x2="286.5" y2="33.6" stroke="#262626" stroke-width="0.6"/>
<text x="284.6" y="36" font-size="5.4" text-anchor="end" fill="#3a3a3a">75</text>
<line x1="289.5" y1="110" x2="287.5" y2="110.4" stroke="#262626" stroke-width="0.6"/>
<text x="284.3" y="116.8" font-size="5.0" text-anchor="end" fill="#3a3a3a">1e0</text>
<line x1="306.62" y1="115.7" x2="304.62" y2="116.1" stroke="#262626" stroke-width="0.6"/>
<text x="301.42" y="122.5" font-size="5.0" text-anchor="end" fill="#3a3a3a">1e-1</text>
<line x1="323.74" y1="121.4" x2="321.74" y2="121.8" stroke="#262626" stroke-width="0.6"/>
<text x="318.54" y="128.2" font-size="5.0" text-anchor="end" fill="#3a3a3a">1e-2</text>
<line x1="340.86" y1="127.1" x2="338.86" y2="127.5" stroke="#262626" stroke-width="0.6"/>
<text x="335.66" y="133.9" font-size="5.0" text-anchor="end" fill="#3a3a3a">1e-3</text>
<line x1="357.98" y1="132.8" x2="355.98" y2="133.2" stroke="#262626" stroke-width="0.6"/>
<text x="352.78" y="139.6" font-size="5.0" text-anchor="end" fill="#3a3a3a">1e-4</text>
<line x1="375.1" y1="138.5" x2="373.1" y2="138.9" stroke="#262626" stroke-width="0.6"/>
<text x="369.9" y="145.3" font-size="5.0" text-anchor="end" fill="#3a3a3a">1e-5</text>
<line x1="392.22" y1="144.2" x2="390.22" y2="144.6" stroke="#262626" stroke-width="0.6"/>
<text x="387.02" y="151" font-size="5.0" text-anchor="end" fill="#3a3a3a">1e-6</text>
<line x1="392.22" y1="144.2" x2="394.12" y2="144.83" stroke="#262626" stroke-width="0.6"/>
<text x="397.62" y="151.5" font-size="5.0" text-anchor="start" fill="#3a3a3a">1e-6</text>
<line x1="418.84" y1="138.9" x2="420.74" y2="139.53" stroke="#262626" stroke-width="0.6"/>
<text x="424.24" y="146.2" font-size="5.0" text-anchor="start" fill="#3a3a3a">1e-5</text>
<line x1="445.46" y1="133.6" x2="447.36" y2="134.23" stroke="#262626" stroke-width="0.6"/>
<text x="450.86" y="140.9" font-size="5.0" text-anchor="start" fill="#3a3a3a">1e-4</text>
<line x1="472.08" y1="128.3" x2="473.98" y2="128.93" stroke="#262626" stroke-width="0.6"/>
<text x="477.48" y="135.6" font-size="5.0" text-anchor="start" fill="#3a3a3a">1e-3</text>
<line x1="498.7" y1="123" x2="500.6" y2="123.63" stroke="#262626" stroke-width="0.6"/>
<text x="504.1" y="130.3" font-size="5.0" text-anchor="start" fill="#3a3a3a">1e-2</text>
<line x1="525.32" y1="117.7" x2="527.22" y2="118.33" stroke="#262626" stroke-width="0.6"/>
<text x="530.72" y="125" font-size="5.0" text-anchor="start" fill="#3a3a3a">1e-1</text>
<text x="341" y="151.5" font-size="5.2" fill="#3a3a3a">&#955;2</text>
<text x="446.2" y="154.6" font-size="5.2" fill="#3a3a3a">&#955;1</text>
<text x="0" y="0" transform="translate(276.3,73) rotate(-90)" font-size="5.6" text-anchor="middle" fill="#3a3a3a">Classification accuracy (%)</text>
<text x="402.2" y="172.4" font-size="9.4" font-weight="bold" text-anchor="middle" fill="#2e2e2e" font-family="'Liberation Serif', 'Times New Roman', serif">(b)</text>
<line x1="289.5" y1="294.1" x2="289.5" y2="218.7" stroke="#e6e6e6" stroke-width="0.5"/>
<line x1="316.12" y1="288.8" x2="316.12" y2="213.4" stroke="#e6e6e6" stroke-width="0.5"/>
<line x1="342.74" y1="283.5" x2="342.74" y2="208.1" stroke="#e6e6e6" stroke-width="0.5"/>
<line x1="369.36" y1="278.2" x2="369.36" y2="202.8" stroke="#e6e6e6" stroke-width="0.5"/>
<line x1="395.98" y1="272.9" x2="395.98" y2="197.5" stroke="#e6e6e6" stroke-width="0.5"/>
<line x1="422.6" y1="267.6" x2="422.6" y2="192.2" stroke="#e6e6e6" stroke-width="0.5"/>
<line x1="289.5" y1="294.1" x2="422.6" y2="267.6" stroke="#e6e6e6" stroke-width="0.5"/>
<line x1="289.5" y1="281.53" x2="422.6" y2="255.03" stroke="#e6e6e6" stroke-width="0.5"/>
<line x1="289.5" y1="268.97" x2="422.6" y2="242.47" stroke="#e6e6e6" stroke-width="0.5"/>
<line x1="289.5" y1="256.4" x2="422.6" y2="229.9" stroke="#e6e6e6" stroke-width="0.5"/>
<line x1="289.5" y1="243.83" x2="422.6" y2="217.33" stroke="#e6e6e6" stroke-width="0.5"/>
<line x1="289.5" y1="231.27" x2="422.6" y2="204.77" stroke="#e6e6e6" stroke-width="0.5"/>
<line x1="289.5" y1="218.7" x2="422.6" y2="192.2" stroke="#e6e6e6" stroke-width="0.5"/>
<line x1="422.6" y1="267.6" x2="422.6" y2="192.2" stroke="#e6e6e6" stroke-width="0.5"/>
<line x1="439.72" y1="273.3" x2="439.72" y2="197.9" stroke="#e6e6e6" stroke-width="0.5"/>
<line x1="456.84" y1="279" x2="456.84" y2="203.6" stroke="#e6e6e6" stroke-width="0.5"/>
<line x1="473.96" y1="284.7" x2="473.96" y2="209.3" stroke="#e6e6e6" stroke-width="0.5"/>
<line x1="491.08" y1="290.4" x2="491.08" y2="215" stroke="#e6e6e6" stroke-width="0.5"/>
<line x1="508.2" y1="296.1" x2="508.2" y2="220.7" stroke="#e6e6e6" stroke-width="0.5"/>
<line x1="525.32" y1="301.8" x2="525.32" y2="226.4" stroke="#e6e6e6" stroke-width="0.5"/>
<line x1="422.6" y1="267.6" x2="525.32" y2="301.8" stroke="#e6e6e6" stroke-width="0.5"/>
<line x1="422.6" y1="255.03" x2="525.32" y2="289.23" stroke="#e6e6e6" stroke-width="0.5"/>
<line x1="422.6" y1="242.47" x2="525.32" y2="276.67" stroke="#e6e6e6" stroke-width="0.5"/>
<line x1="422.6" y1="229.9" x2="525.32" y2="264.1" stroke="#e6e6e6" stroke-width="0.5"/>
<line x1="422.6" y1="217.33" x2="525.32" y2="251.53" stroke="#e6e6e6" stroke-width="0.5"/>
<line x1="422.6" y1="204.77" x2="525.32" y2="238.97" stroke="#e6e6e6" stroke-width="0.5"/>
<line x1="422.6" y1="192.2" x2="525.32" y2="226.4" stroke="#e6e6e6" stroke-width="0.5"/>
<line x1="289.5" y1="294.1" x2="392.22" y2="328.3" stroke="#e6e6e6" stroke-width="0.5"/>
<line x1="316.12" y1="288.8" x2="418.84" y2="323" stroke="#e6e6e6" stroke-width="0.5"/>
<line x1="342.74" y1="283.5" x2="445.46" y2="317.7" stroke="#e6e6e6" stroke-width="0.5"/>
<line x1="369.36" y1="278.2" x2="472.08" y2="312.4" stroke="#e6e6e6" stroke-width="0.5"/>
<line x1="395.98" y1="272.9" x2="498.7" y2="307.1" stroke="#e6e6e6" stroke-width="0.5"/>
<line x1="422.6" y1="267.6" x2="525.32" y2="301.8" stroke="#e6e6e6" stroke-width="0.5"/>
<line x1="289.5" y1="294.1" x2="422.6" y2="267.6" stroke="#e6e6e6" stroke-width="0.5"/>
<line x1="306.62" y1="299.8" x2="439.72" y2="273.3" stroke="#e6e6e6" stroke-width="0.5"/>
<line x1="323.74" y1="305.5" x2="456.84" y2="279" stroke="#e6e6e6" stroke-width="0.5"/>
<line x1="340.86" y1="311.2" x2="473.96" y2="284.7" stroke="#e6e6e6" stroke-width="0.5"/>
<line x1="357.98" y1="316.9" x2="491.08" y2="290.4" stroke="#e6e6e6" stroke-width="0.5"/>
<line x1="375.1" y1="322.6" x2="508.2" y2="296.1" stroke="#e6e6e6" stroke-width="0.5"/>
<line x1="392.22" y1="328.3" x2="525.32" y2="301.8" stroke="#e6e6e6" stroke-width="0.5"/>
<path d="M395.98,252.79 L422.6,247.49 L439.72,272.04ZM395.98,252.79 L439.72,272.04 L413.1,277.34Z" fill="#fff" stroke="#fff" stroke-width="0.3"/>
<line x1="395.98" y1="252.79" x2="422.6" y2="247.49" stroke="#3c8dd8" stroke-width="0.9"/>
<line x1="413.1" y1="277.34" x2="439.72" y2="272.04" stroke="#3d2b93" stroke-width="0.9"/>
<line x1="395.98" y1="252.79" x2="413.1" y2="277.34" stroke="#3d2b93" stroke-width="0.9"/>
<line x1="422.6" y1="247.49" x2="439.72" y2="272.04" stroke="#3d2b93" stroke-width="0.9"/>
<path d="M369.36,258.09 L395.98,252.79 L413.1,277.34ZM369.36,258.09 L413.1,277.34 L386.48,282.64Z" fill="#fff" stroke="#fff" stroke-width="0.3"/>
<line x1="369.36" y1="258.09" x2="395.98" y2="252.79" stroke="#3c8dd8" stroke-width="0.9"/>
<line x1="386.48" y1="282.64" x2="413.1" y2="277.34" stroke="#3d2b93" stroke-width="0.9"/>
<line x1="369.36" y1="258.09" x2="386.48" y2="282.64" stroke="#3d2b93" stroke-width="0.9"/>
<line x1="395.98" y1="252.79" x2="413.1" y2="277.34" stroke="#3d2b93" stroke-width="0.9"/>
<path d="M413.1,277.34 L456.84,216.42 L439.72,272.04ZM413.1,277.34 L430.22,224.73 L456.84,216.42Z" fill="#fff" stroke="#fff" stroke-width="0.3"/>
<line x1="413.1" y1="277.34" x2="439.72" y2="272.04" stroke="#3d2b93" stroke-width="0.9"/>
<line x1="430.22" y1="224.73" x2="456.84" y2="216.42" stroke="#eee04a" stroke-width="0.9"/>
<line x1="413.1" y1="277.34" x2="430.22" y2="224.73" stroke="#eee04a" stroke-width="0.9"/>
<line x1="439.72" y1="272.04" x2="456.84" y2="216.42" stroke="#f2f042" stroke-width="0.9"/>
<path d="M342.74,263.39 L369.36,258.09 L386.48,282.64ZM342.74,263.39 L359.86,242.95 L386.48,282.64Z" fill="#fff" stroke="#fff" stroke-width="0.3"/>
<line x1="342.74" y1="263.39" x2="369.36" y2="258.09" stroke="#3c8dd8" stroke-width="0.9"/>
<line x1="359.86" y1="242.95" x2="386.48" y2="282.64" stroke="#ddba49" stroke-width="0.9"/>
<line x1="342.74" y1="263.39" x2="359.86" y2="242.95" stroke="#ddba49" stroke-width="0.9"/>
<line x1="369.36" y1="258.09" x2="386.48" y2="282.64" stroke="#3d2b93" stroke-width="0.9"/>
<path d="M386.48,282.64 L430.22,224.73 L413.1,277.34ZM386.48,282.64 L403.6,234.81 L430.22,224.73Z" fill="#fff" stroke="#fff" stroke-width="0.3"/>
<line x1="386.48" y1="282.64" x2="413.1" y2="277.34" stroke="#3d2b93" stroke-width="0.9"/>
<line x1="403.6" y1="234.81" x2="430.22" y2="224.73" stroke="#f3c951" stroke-width="0.9"/>
<line x1="386.48" y1="282.64" x2="403.6" y2="234.81" stroke="#f3c951" stroke-width="0.9"/>
<line x1="413.1" y1="277.34" x2="430.22" y2="224.73" stroke="#eee04a" stroke-width="0.9"/>
<path d="M316.12,269.7 L359.86,242.95 L342.74,263.39ZM316.12,269.7 L333.24,248.51 L359.86,242.95Z" fill="#fff" stroke="#fff" stroke-width="0.3"/>
<line x1="316.12" y1="269.7" x2="342.74" y2="263.39" stroke="#3d89db" stroke-width="0.9"/>
<line x1="333.24" y1="248.51" x2="359.86" y2="242.95" stroke="#d4bb45" stroke-width="0.9"/>
<line x1="316.12" y1="269.7" x2="333.24" y2="248.51" stroke="#d4bb45" stroke-width="0.9"/>
<line x1="342.74" y1="263.39" x2="359.86" y2="242.95" stroke="#ddba49" stroke-width="0.9"/>
<path d="M430.22,224.73 L456.84,216.42 L473.96,220.61ZM430.22,224.73 L473.96,220.61 L447.34,228.67Z" fill="#fff" stroke="#fff" stroke-width="0.3"/>
<line x1="430.22" y1="224.73" x2="456.84" y2="216.42" stroke="#eee04a" stroke-width="0.9"/>
<line x1="447.34" y1="228.67" x2="473.96" y2="220.61" stroke="#efe548" stroke-width="0.9"/>
<line x1="430.22" y1="224.73" x2="447.34" y2="228.67" stroke="#efe548" stroke-width="0.9"/>
<line x1="456.84" y1="216.42" x2="473.96" y2="220.61" stroke="#f4f63d" stroke-width="0.9"/>
<path d="M359.86,242.95 L403.6,234.81 L386.48,282.64ZM359.86,242.95 L403.6,234.81 L376.98,262.23Z" fill="#fff" stroke="#fff" stroke-width="0.3"/>
<line x1="359.86" y1="242.95" x2="386.48" y2="282.64" stroke="#ddba49" stroke-width="0.9"/>
<line x1="376.98" y1="262.23" x2="403.6" y2="234.81" stroke="#40baa3" stroke-width="0.9"/>
<line x1="359.86" y1="242.95" x2="376.98" y2="262.23" stroke="#40baa3" stroke-width="0.9"/>
<line x1="386.48" y1="282.64" x2="403.6" y2="234.81" stroke="#f3c951" stroke-width="0.9"/>
<path d="M289.5,274.5 L333.24,248.51 L316.12,269.7ZM289.5,274.5 L306.62,253.81 L333.24,248.51Z" fill="#fff" stroke="#fff" stroke-width="0.3"/>
<line x1="289.5" y1="274.5" x2="316.12" y2="269.7" stroke="#3d89db" stroke-width="0.9"/>
<line x1="306.62" y1="253.81" x2="333.24" y2="248.51" stroke="#d4bb45" stroke-width="0.9"/>
<line x1="289.5" y1="274.5" x2="306.62" y2="253.81" stroke="#d4bb45" stroke-width="0.9"/>
<line x1="316.12" y1="269.7" x2="333.24" y2="248.51" stroke="#d4bb45" stroke-width="0.9"/>
<path d="M403.6,234.81 L430.22,224.73 L447.34,228.67ZM403.6,234.81 L447.34,228.67 L420.72,238.75Z" fill="#fff" stroke="#fff" stroke-width="0.3"/>
<line x1="403.6" y1="234.81" x2="430.22" y2="224.73" stroke="#f3c951" stroke-width="0.9"/>
<line x1="420.72" y1="238.75" x2="447.34" y2="228.67" stroke="#f2cf4f" stroke-width="0.9"/>
<line x1="403.6" y1="234.81" x2="420.72" y2="238.75" stroke="#f2cf4f" stroke-width="0.9"/>
<line x1="430.22" y1="224.73" x2="447.34" y2="228.67" stroke="#efe548" stroke-width="0.9"/>
<path d="M333.24,248.51 L359.86,242.95 L376.98,262.23ZM333.24,248.51 L376.98,262.23 L350.36,283.11Z" fill="#fff" stroke="#fff" stroke-width="0.3"/>
<line x1="333.24" y1="248.51" x2="359.86" y2="242.95" stroke="#d4bb45" stroke-width="0.9"/>
<line x1="350.36" y1="283.11" x2="376.98" y2="262.23" stroke="#3f7ae1" stroke-width="0.9"/>
<line x1="333.24" y1="248.51" x2="350.36" y2="283.11" stroke="#3f7ae1" stroke-width="0.9"/>
<line x1="359.86" y1="242.95" x2="376.98" y2="262.23" stroke="#40baa3" stroke-width="0.9"/>
<path d="M447.34,228.67 L473.96,220.61 L491.08,226.06ZM447.34,228.67 L491.08,226.06 L464.46,234.37Z" fill="#fff" stroke="#fff" stroke-width="0.3"/>
<line x1="447.34" y1="228.67" x2="473.96" y2="220.61" stroke="#efe548" stroke-width="0.9"/>
<line x1="464.46" y1="234.37" x2="491.08" y2="226.06" stroke="#efe548" stroke-width="0.9"/>
<line x1="447.34" y1="228.67" x2="464.46" y2="234.37" stroke="#efe548" stroke-width="0.9"/>
<line x1="473.96" y1="220.61" x2="491.08" y2="226.06" stroke="#f4f63d" stroke-width="0.9"/>
<path d="M376.98,262.23 L403.6,234.81 L420.72,238.75ZM376.98,262.23 L420.72,238.75 L394.1,271.7Z" fill="#fff" stroke="#fff" stroke-width="0.3"/>
<line x1="376.98" y1="262.23" x2="403.6" y2="234.81" stroke="#40baa3" stroke-width="0.9"/>
<line x1="394.1" y1="271.7" x2="420.72" y2="238.75" stroke="#1cb0b7" stroke-width="0.9"/>
<line x1="376.98" y1="262.23" x2="394.1" y2="271.7" stroke="#1cb0b7" stroke-width="0.9"/>
<line x1="403.6" y1="234.81" x2="420.72" y2="238.75" stroke="#f2cf4f" stroke-width="0.9"/>
<path d="M306.62,253.81 L333.24,248.51 L350.36,283.11ZM306.62,253.81 L350.36,283.11 L323.74,289.16Z" fill="#fff" stroke="#fff" stroke-width="0.3"/>
<line x1="306.62" y1="253.81" x2="333.24" y2="248.51" stroke="#d4bb45" stroke-width="0.9"/>
<line x1="323.74" y1="289.16" x2="350.36" y2="283.11" stroke="#3f7ae1" stroke-width="0.9"/>
<line x1="306.62" y1="253.81" x2="323.74" y2="289.16" stroke="#3f7ae1" stroke-width="0.9"/>
<line x1="333.24" y1="248.51" x2="350.36" y2="283.11" stroke="#3f7ae1" stroke-width="0.9"/>
<path d="M420.72,238.75 L447.34,228.67 L464.46,234.37ZM420.72,238.75 L464.46,234.37 L437.84,242.69Z" fill="#fff" stroke="#fff" stroke-width="0.3"/>
<line x1="420.72" y1="238.75" x2="447.34" y2="228.67" stroke="#f2cf4f" stroke-width="0.9"/>
<line x1="437.84" y1="242.69" x2="464.46" y2="234.37" stroke="#efda4b" stroke-width="0.9"/>
<line x1="420.72" y1="238.75" x2="437.84" y2="242.69" stroke="#efda4b" stroke-width="0.9"/>
<line x1="447.34" y1="228.67" x2="464.46" y2="234.37" stroke="#efe548" stroke-width="0.9"/>
<path d="M350.36,283.11 L376.98,262.23 L394.1,271.7ZM350.36,283.11 L394.1,271.7 L367.48,293.08Z" fill="#fff" stroke="#fff" stroke-width="0.3"/>
<line x1="350.36" y1="283.11" x2="376.98" y2="262.23" stroke="#3f7ae1" stroke-width="0.9"/>
<line x1="367.48" y1="293.08" x2="394.1" y2="271.7" stroke="#4d5bda" stroke-width="0.9"/>
<line x1="350.36" y1="283.11" x2="367.48" y2="293.08" stroke="#4d5bda" stroke-width="0.9"/>
<line x1="376.98" y1="262.23" x2="394.1" y2="271.7" stroke="#1cb0b7" stroke-width="0.9"/>
<path d="M464.46,234.37 L491.08,226.06 L508.2,231.51ZM464.46,234.37 L508.2,231.51 L481.58,240.83Z" fill="#fff" stroke="#fff" stroke-width="0.3"/>
<line x1="464.46" y1="234.37" x2="491.08" y2="226.06" stroke="#efe548" stroke-width="0.9"/>
<line x1="481.58" y1="240.83" x2="508.2" y2="231.51" stroke="#efe548" stroke-width="0.9"/>
<line x1="464.46" y1="234.37" x2="481.58" y2="240.83" stroke="#efe548" stroke-width="0.9"/>
<line x1="491.08" y1="226.06" x2="508.2" y2="231.51" stroke="#f4f63d" stroke-width="0.9"/>
<path d="M394.1,271.7 L420.72,238.75 L437.84,242.69ZM394.1,271.7 L437.84,242.69 L411.22,279.66Z" fill="#fff" stroke="#fff" stroke-width="0.3"/>
<line x1="394.1" y1="271.7" x2="420.72" y2="238.75" stroke="#1cb0b7" stroke-width="0.9"/>
<line x1="411.22" y1="279.66" x2="437.84" y2="242.69" stroke="#29a8c6" stroke-width="0.9"/>
<line x1="394.1" y1="271.7" x2="411.22" y2="279.66" stroke="#29a8c6" stroke-width="0.9"/>
<line x1="420.72" y1="238.75" x2="437.84" y2="242.69" stroke="#efda4b" stroke-width="0.9"/>
<path d="M323.74,289.16 L350.36,283.11 L367.48,293.08ZM323.74,289.16 L367.48,293.08 L340.86,300.14Z" fill="#fff" stroke="#fff" stroke-width="0.3"/>
<line x1="323.74" y1="289.16" x2="350.36" y2="283.11" stroke="#3f7ae1" stroke-width="0.9"/>
<line x1="340.86" y1="300.14" x2="367.48" y2="293.08" stroke="#4b4bce" stroke-width="0.9"/>
<line x1="323.74" y1="289.16" x2="340.86" y2="300.14" stroke="#4b4bce" stroke-width="0.9"/>
<line x1="350.36" y1="283.11" x2="367.48" y2="293.08" stroke="#4d5bda" stroke-width="0.9"/>
<path d="M437.84,242.69 L464.46,234.37 L481.58,240.83ZM437.84,242.69 L481.58,240.83 L454.96,248.14Z" fill="#fff" stroke="#fff" stroke-width="0.3"/>
<line x1="437.84" y1="242.69" x2="464.46" y2="234.37" stroke="#efda4b" stroke-width="0.9"/>
<line x1="454.96" y1="248.14" x2="481.58" y2="240.83" stroke="#efda4b" stroke-width="0.9"/>
<line x1="437.84" y1="242.69" x2="454.96" y2="248.14" stroke="#efda4b" stroke-width="0.9"/>
<line x1="464.46" y1="234.37" x2="481.58" y2="240.83" stroke="#efe548" stroke-width="0.9"/>
<path d="M367.48,293.08 L394.1,271.7 L411.22,279.66ZM367.48,293.08 L411.22,279.66 L384.6,303.31Z" fill="#fff" stroke="#fff" stroke-width="0.3"/>
<line x1="367.48" y1="293.08" x2="394.1" y2="271.7" stroke="#4d5bda" stroke-width="0.9"/>
<line x1="384.6" y1="303.31" x2="411.22" y2="279.66" stroke="#4233a7" stroke-width="0.9"/>
<line x1="367.48" y1="293.08" x2="384.6" y2="303.31" stroke="#4233a7" stroke-width="0.9"/>
<line x1="394.1" y1="271.7" x2="411.22" y2="279.66" stroke="#29a8c6" stroke-width="0.9"/>
<path d="M481.58,240.83 L508.2,231.51 L525.32,237.71ZM481.58,240.83 L525.32,237.71 L498.7,246.28Z" fill="#fff" stroke="#fff" stroke-width="0.3"/>
<line x1="481.58" y1="240.83" x2="508.2" y2="231.51" stroke="#efe548" stroke-width="0.9"/>
<line x1="498.7" y1="246.28" x2="525.32" y2="237.71" stroke="#efe548" stroke-width="0.9"/>
<line x1="481.58" y1="240.83" x2="498.7" y2="246.28" stroke="#efe548" stroke-width="0.9"/>
<line x1="508.2" y1="231.51" x2="525.32" y2="237.71" stroke="#f4f63d" stroke-width="0.9"/>
<path d="M411.22,279.66 L437.84,242.69 L454.96,248.14ZM411.22,279.66 L454.96,248.14 L428.34,286.36Z" fill="#fff" stroke="#fff" stroke-width="0.3"/>
<line x1="411.22" y1="279.66" x2="437.84" y2="242.69" stroke="#29a8c6" stroke-width="0.9"/>
<line x1="428.34" y1="286.36" x2="454.96" y2="248.14" stroke="#2ea5ca" stroke-width="0.9"/>
<line x1="411.22" y1="279.66" x2="428.34" y2="286.36" stroke="#2ea5ca" stroke-width="0.9"/>
<line x1="437.84" y1="242.69" x2="454.96" y2="248.14" stroke="#efda4b" stroke-width="0.9"/>
<path d="M340.86,300.14 L367.48,293.08 L384.6,303.31ZM340.86,300.14 L384.6,303.31 L357.98,310.11Z" fill="#fff" stroke="#fff" stroke-width="0.3"/>
<line x1="340.86" y1="300.14" x2="367.48" y2="293.08" stroke="#4b4bce" stroke-width="0.9"/>
<line x1="357.98" y1="310.11" x2="384.6" y2="303.31" stroke="#3d2b93" stroke-width="0.9"/>
<line x1="340.86" y1="300.14" x2="357.98" y2="310.11" stroke="#3d2b93" stroke-width="0.9"/>
<line x1="367.48" y1="293.08" x2="384.6" y2="303.31" stroke="#4233a7" stroke-width="0.9"/>
<path d="M454.96,248.14 L481.58,240.83 L498.7,246.28ZM454.96,248.14 L498.7,246.28 L472.08,254.59Z" fill="#fff" stroke="#fff" stroke-width="0.3"/>
<line x1="454.96" y1="248.14" x2="481.58" y2="240.83" stroke="#efda4b" stroke-width="0.9"/>
<line x1="472.08" y1="254.59" x2="498.7" y2="246.28" stroke="#f1d44d" stroke-width="0.9"/>
<line x1="454.96" y1="248.14" x2="472.08" y2="254.59" stroke="#f1d44d" stroke-width="0.9"/>
<line x1="481.58" y1="240.83" x2="498.7" y2="246.28" stroke="#efe548" stroke-width="0.9"/>
<path d="M384.6,303.31 L411.22,279.66 L428.34,286.36ZM384.6,303.31 L428.34,286.36 L401.72,308Z" fill="#fff" stroke="#fff" stroke-width="0.3"/>
<line x1="384.6" y1="303.31" x2="411.22" y2="279.66" stroke="#4233a7" stroke-width="0.9"/>
<line x1="401.72" y1="308" x2="428.34" y2="286.36" stroke="#473bba" stroke-width="0.9"/>
<line x1="384.6" y1="303.31" x2="401.72" y2="308" stroke="#473bba" stroke-width="0.9"/>
<line x1="411.22" y1="279.66" x2="428.34" y2="286.36" stroke="#2ea5ca" stroke-width="0.9"/>
<path d="M428.34,286.36 L454.96,248.14 L472.08,254.59ZM428.34,286.36 L472.08,254.59 L445.46,292.57Z" fill="#fff" stroke="#fff" stroke-width="0.3"/>
<line x1="428.34" y1="286.36" x2="454.96" y2="248.14" stroke="#2ea5ca" stroke-width="0.9"/>
<line x1="445.46" y1="292.57" x2="472.08" y2="254.59" stroke="#31a2cd" stroke-width="0.9"/>
<line x1="428.34" y1="286.36" x2="445.46" y2="292.57" stroke="#31a2cd" stroke-width="0.9"/>
<line x1="454.96" y1="248.14" x2="472.08" y2="254.59" stroke="#f1d44d" stroke-width="0.9"/>
<path d="M357.98,310.11 L384.6,303.31 L401.72,308ZM357.98,310.11 L401.72,308 L375.1,315.31Z" fill="#fff" stroke="#fff" stroke-width="0.3"/>
<line x1="357.98" y1="310.11" x2="384.6" y2="303.31" stroke="#3d2b93" stroke-width="0.9"/>
<line x1="375.1" y1="315.31" x2="401.72" y2="308" stroke="#3d2b93" stroke-width="0.9"/>
<line x1="357.98" y1="310.11" x2="375.1" y2="315.31" stroke="#3d2b93" stroke-width="0.9"/>
<line x1="384.6" y1="303.31" x2="401.72" y2="308" stroke="#473bba" stroke-width="0.9"/>
<path d="M401.72,308 L428.34,286.36 L445.46,292.57ZM401.72,308 L445.46,292.57 L418.84,313.2Z" fill="#fff" stroke="#fff" stroke-width="0.3"/>
<line x1="401.72" y1="308" x2="428.34" y2="286.36" stroke="#473bba" stroke-width="0.9"/>
<line x1="418.84" y1="313.2" x2="445.46" y2="292.57" stroke="#4840c2" stroke-width="0.9"/>
<line x1="401.72" y1="308" x2="418.84" y2="313.2" stroke="#4840c2" stroke-width="0.9"/>
<line x1="428.34" y1="286.36" x2="445.46" y2="292.57" stroke="#31a2cd" stroke-width="0.9"/>
<path d="M375.1,315.31 L401.72,308 L418.84,313.2ZM375.1,315.31 L418.84,313.2 L392.22,320.01Z" fill="#fff" stroke="#fff" stroke-width="0.3"/>
<line x1="375.1" y1="315.31" x2="401.72" y2="308" stroke="#3d2b93" stroke-width="0.9"/>
<line x1="392.22" y1="320.01" x2="418.84" y2="313.2" stroke="#4233a7" stroke-width="0.9"/>
<line x1="375.1" y1="315.31" x2="392.22" y2="320.01" stroke="#4233a7" stroke-width="0.9"/>
<line x1="401.72" y1="308" x2="418.84" y2="313.2" stroke="#4840c2" stroke-width="0.9"/>
<line x1="289.5" y1="294.1" x2="289.5" y2="218.7" stroke="#5a5a5a" stroke-width="0.9"/>
<line x1="289.5" y1="294.1" x2="392.22" y2="328.3" stroke="#5a5a5a" stroke-width="0.9"/>
<line x1="392.22" y1="328.3" x2="525.32" y2="301.8" stroke="#5a5a5a" stroke-width="0.9"/>
<line x1="289.5" y1="294.1" x2="286.5" y2="293.1" stroke="#262626" stroke-width="0.6"/>
<text x="284.6" y="295.5" font-size="5.4" text-anchor="end" fill="#3a3a3a">60</text>
<line x1="289.5" y1="281.53" x2="286.5" y2="280.53" stroke="#262626" stroke-width="0.6"/>
<text x="284.6" y="282.93" font-size="5.4" text-anchor="end" fill="#3a3a3a">65</text>
<line x1="289.5" y1="268.97" x2="286.5" y2="267.97" stroke="#262626" stroke-width="0.6"/>
<text x="284.6" y="270.37" font-size="5.4" text-anchor="end" fill="#3a3a3a">70</text>
<line x1="289.5" y1="256.4" x2="286.5" y2="255.4" stroke="#262626" stroke-width="0.6"/>
<text x="284.6" y="257.8" font-size="5.4" text-anchor="end" fill="#3a3a3a">75</text>
<line x1="289.5" y1="243.83" x2="286.5" y2="242.83" stroke="#262626" stroke-width="0.6"/>
<text x="284.6" y="245.23" font-size="5.4" text-anchor="end" fill="#3a3a3a">80</text>
<line x1="289.5" y1="231.27" x2="286.5" y2="230.27" stroke="#262626" stroke-width="0.6"/>
<text x="284.6" y="232.67" font-size="5.4" text-anchor="end" fill="#3a3a3a">85</text>
<line x1="289.5" y1="218.7" x2="286.5" y2="217.7" stroke="#262626" stroke-width="0.6"/>
<text x="284.6" y="220.1" font-size="5.4" text-anchor="end" fill="#3a3a3a">90</text>
<line x1="289.5" y1="294.1" x2="287.5" y2="294.5" stroke="#262626" stroke-width="0.6"/>
<text x="284.3" y="300.9" font-size="5.0" text-anchor="end" fill="#3a3a3a">1e0</text>
<line x1="306.62" y1="299.8" x2="304.62" y2="300.2" stroke="#262626" stroke-width="0.6"/>
<text x="301.42" y="306.6" font-size="5.0" text-anchor="end" fill="#3a3a3a">1e-1</text>
<line x1="323.74" y1="305.5" x2="321.74" y2="305.9" stroke="#262626" stroke-width="0.6"/>
<text x="318.54" y="312.3" font-size="5.0" text-anchor="end" fill="#3a3a3a">1e-2</text>
<line x1="340.86" y1="311.2" x2="338.86" y2="311.6" stroke="#262626" stroke-width="0.6"/>
<text x="335.66" y="318" font-size="5.0" text-anchor="end" fill="#3a3a3a">1e-3</text>
<line x1="357.98" y1="316.9" x2="355.98" y2="317.3" stroke="#262626" stroke-width="0.6"/>
<text x="352.78" y="323.7" font-size="5.0" text-anchor="end" fill="#3a3a3a">1e-4</text>
<line x1="375.1" y1="322.6" x2="373.1" y2="323" stroke="#262626" stroke-width="0.6"/>
<text x="369.9" y="329.4" font-size="5.0" text-anchor="end" fill="#3a3a3a">1e-5</text>
<line x1="392.22" y1="328.3" x2="390.22" y2="328.7" stroke="#262626" stroke-width="0.6"/>
<text x="387.02" y="335.1" font-size="5.0" text-anchor="end" fill="#3a3a3a">1e-6</text>
<line x1="392.22" y1="328.3" x2="394.12" y2="328.93" stroke="#262626" stroke-width="0.6"/>
<text x="397.62" y="335.6" font-size="5.0" text-anchor="start" fill="#3a3a3a">1e-6</text>
<line x1="418.84" y1="323" x2="420.74" y2="323.63" stroke="#262626" stroke-width="0.6"/>
<text x="424.24" y="330.3" font-size="5.0" text-anchor="start" fill="#3a3a3a">1e-5</text>
<line x1="445.46" y1="317.7" x2="447.36" y2="318.33" stroke="#262626" stroke-width="0.6"/>
<text x="450.86" y="325" font-size="5.0" text-anchor="start" fill="#3a3a3a">1e-4</text>
<line x1="472.08" y1="312.4" x2="473.98" y2="313.03" stroke="#262626" stroke-width="0.6"/>
<text x="477.48" y="319.7" font-size="5.0" text-anchor="start" fill="#3a3a3a">1e-3</text>
<line x1="498.7" y1="307.1" x2="500.6" y2="307.73" stroke="#262626" stroke-width="0.6"/>
<text x="504.1" y="314.4" font-size="5.0" text-anchor="start" fill="#3a3a3a">1e-2</text>
<line x1="525.32" y1="301.8" x2="527.22" y2="302.43" stroke="#262626" stroke-width="0.6"/>
<text x="530.72" y="309.1" font-size="5.0" text-anchor="start" fill="#3a3a3a">1e-1</text>
<text x="341" y="335.6" font-size="5.2" fill="#3a3a3a">&#955;2</text>
<text x="446.2" y="338.7" font-size="5.2" fill="#3a3a3a">&#955;1</text>
<text x="0" y="0" transform="translate(276.3,257.1) rotate(-90)" font-size="5.6" text-anchor="middle" fill="#3a3a3a">Classification accuracy (%)</text>
<text x="403.5" y="359" font-size="9.4" font-weight="bold" text-anchor="middle" fill="#2e2e2e" font-family="'Liberation Serif', 'Times New Roman', serif">(d)</text>
<line x1="289.5" y1="476" x2="289.5" y2="400.6" stroke="#e6e6e6" stroke-width="0.5"/>
<line x1="316.12" y1="470.7" x2="316.12" y2="395.3" stroke="#e6e6e6" stroke-width="0.5"/>
<line x1="342.74" y1="465.4" x2="342.74" y2="390" stroke="#e6e6e6" stroke-width="0.5"/>
<line x1="369.36" y1="460.1" x2="369.36" y2="384.7" stroke="#e6e6e6" stroke-width="0.5"/>
<line x1="395.98" y1="454.8" x2="395.98" y2="379.4" stroke="#e6e6e6" stroke-width="0.5"/>
<line x1="422.6" y1="449.5" x2="422.6" y2="374.1" stroke="#e6e6e6" stroke-width="0.5"/>
<line x1="289.5" y1="476" x2="422.6" y2="449.5" stroke="#e6e6e6" stroke-width="0.5"/>
<line x1="289.5" y1="457.15" x2="422.6" y2="430.65" stroke="#e6e6e6" stroke-width="0.5"/>
<line x1="289.5" y1="438.3" x2="422.6" y2="411.8" stroke="#e6e6e6" stroke-width="0.5"/>
<line x1="289.5" y1="419.45" x2="422.6" y2="392.95" stroke="#e6e6e6" stroke-width="0.5"/>
<line x1="289.5" y1="400.6" x2="422.6" y2="374.1" stroke="#e6e6e6" stroke-width="0.5"/>
<line x1="422.6" y1="449.5" x2="422.6" y2="374.1" stroke="#e6e6e6" stroke-width="0.5"/>
<line x1="439.72" y1="455.2" x2="439.72" y2="379.8" stroke="#e6e6e6" stroke-width="0.5"/>
<line x1="456.84" y1="460.9" x2="456.84" y2="385.5" stroke="#e6e6e6" stroke-width="0.5"/>
<line x1="473.96" y1="466.6" x2="473.96" y2="391.2" stroke="#e6e6e6" stroke-width="0.5"/>
<line x1="491.08" y1="472.3" x2="491.08" y2="396.9" stroke="#e6e6e6" stroke-width="0.5"/>
<line x1="508.2" y1="478" x2="508.2" y2="402.6" stroke="#e6e6e6" stroke-width="0.5"/>
<line x1="525.32" y1="483.7" x2="525.32" y2="408.3" stroke="#e6e6e6" stroke-width="0.5"/>
<line x1="422.6" y1="449.5" x2="525.32" y2="483.7" stroke="#e6e6e6" stroke-width="0.5"/>
<line x1="422.6" y1="430.65" x2="525.32" y2="464.85" stroke="#e6e6e6" stroke-width="0.5"/>
<line x1="422.6" y1="411.8" x2="525.32" y2="446" stroke="#e6e6e6" stroke-width="0.5"/>
<line x1="422.6" y1="392.95" x2="525.32" y2="427.15" stroke="#e6e6e6" stroke-width="0.5"/>
<line x1="422.6" y1="374.1" x2="525.32" y2="408.3" stroke="#e6e6e6" stroke-width="0.5"/>
<line x1="289.5" y1="476" x2="392.22" y2="510.2" stroke="#e6e6e6" stroke-width="0.5"/>
<line x1="316.12" y1="470.7" x2="418.84" y2="504.9" stroke="#e6e6e6" stroke-width="0.5"/>
<line x1="342.74" y1="465.4" x2="445.46" y2="499.6" stroke="#e6e6e6" stroke-width="0.5"/>
<line x1="369.36" y1="460.1" x2="472.08" y2="494.3" stroke="#e6e6e6" stroke-width="0.5"/>
<line x1="395.98" y1="454.8" x2="498.7" y2="489" stroke="#e6e6e6" stroke-width="0.5"/>
<line x1="422.6" y1="449.5" x2="525.32" y2="483.7" stroke="#e6e6e6" stroke-width="0.5"/>
<line x1="289.5" y1="476" x2="422.6" y2="449.5" stroke="#e6e6e6" stroke-width="0.5"/>
<line x1="306.62" y1="481.7" x2="439.72" y2="455.2" stroke="#e6e6e6" stroke-width="0.5"/>
<line x1="323.74" y1="487.4" x2="456.84" y2="460.9" stroke="#e6e6e6" stroke-width="0.5"/>
<line x1="340.86" y1="493.1" x2="473.96" y2="466.6" stroke="#e6e6e6" stroke-width="0.5"/>
<line x1="357.98" y1="498.8" x2="491.08" y2="472.3" stroke="#e6e6e6" stroke-width="0.5"/>
<line x1="375.1" y1="504.5" x2="508.2" y2="478" stroke="#e6e6e6" stroke-width="0.5"/>
<line x1="392.22" y1="510.2" x2="525.32" y2="483.7" stroke="#e6e6e6" stroke-width="0.5"/>
<path d="M395.98,442.55 L422.6,437.25 L439.72,436.35ZM395.98,442.55 L439.72,436.35 L413.1,441.65Z" fill="#fff" stroke="#fff" stroke-width="0.3"/>
<line x1="395.98" y1="442.55" x2="422.6" y2="437.25" stroke="#3d2b93" stroke-width="0.9"/>
<line x1="413.1" y1="441.65" x2="439.72" y2="436.35" stroke="#4d60dd" stroke-width="0.9"/>
<line x1="395.98" y1="442.55" x2="413.1" y2="441.65" stroke="#4d60dd" stroke-width="0.9"/>
<line x1="422.6" y1="437.25" x2="439.72" y2="436.35" stroke="#4d60dd" stroke-width="0.9"/>
<path d="M369.36,447.85 L395.98,442.55 L413.1,441.65ZM369.36,447.85 L413.1,441.65 L386.48,446.95Z" fill="#fff" stroke="#fff" stroke-width="0.3"/>
<line x1="369.36" y1="447.85" x2="395.98" y2="442.55" stroke="#3d2b93" stroke-width="0.9"/>
<line x1="386.48" y1="446.95" x2="413.1" y2="441.65" stroke="#4d60dd" stroke-width="0.9"/>
<line x1="369.36" y1="447.85" x2="386.48" y2="446.95" stroke="#4d60dd" stroke-width="0.9"/>
<line x1="395.98" y1="442.55" x2="413.1" y2="441.65" stroke="#4d60dd" stroke-width="0.9"/>
<path d="M413.1,441.65 L456.84,404.35 L439.72,436.35ZM413.1,441.65 L430.22,409.84 L456.84,404.35Z" fill="#fff" stroke="#fff" stroke-width="0.3"/>
<line x1="413.1" y1="441.65" x2="439.72" y2="436.35" stroke="#4d60dd" stroke-width="0.9"/>
<line x1="430.22" y1="409.84" x2="456.84" y2="404.35" stroke="#efda4b" stroke-width="0.9"/>
<line x1="413.1" y1="441.65" x2="430.22" y2="409.84" stroke="#efda4b" stroke-width="0.9"/>
<line x1="439.72" y1="436.35" x2="456.84" y2="404.35" stroke="#efda4b" stroke-width="0.9"/>
<path d="M342.74,453.15 L369.36,447.85 L386.48,446.95ZM342.74,453.15 L359.86,435.66 L386.48,446.95Z" fill="#fff" stroke="#fff" stroke-width="0.3"/>
<line x1="342.74" y1="453.15" x2="369.36" y2="447.85" stroke="#3d2b93" stroke-width="0.9"/>
<line x1="359.86" y1="435.66" x2="386.48" y2="446.95" stroke="#1badbc" stroke-width="0.9"/>
<line x1="342.74" y1="453.15" x2="359.86" y2="435.66" stroke="#1badbc" stroke-width="0.9"/>
<line x1="369.36" y1="447.85" x2="386.48" y2="446.95" stroke="#4d60dd" stroke-width="0.9"/>
<path d="M386.48,446.95 L430.22,409.84 L413.1,441.65ZM386.48,446.95 L403.6,415.52 L430.22,409.84Z" fill="#fff" stroke="#fff" stroke-width="0.3"/>
<line x1="386.48" y1="446.95" x2="413.1" y2="441.65" stroke="#4d60dd" stroke-width="0.9"/>
<line x1="403.6" y1="415.52" x2="430.22" y2="409.84" stroke="#efda4b" stroke-width="0.9"/>
<line x1="386.48" y1="446.95" x2="403.6" y2="415.52" stroke="#efda4b" stroke-width="0.9"/>
<line x1="413.1" y1="441.65" x2="430.22" y2="409.84" stroke="#efda4b" stroke-width="0.9"/>
<path d="M316.12,458.82 L359.86,435.66 L342.74,453.15ZM316.12,458.82 L333.24,440.21 L359.86,435.66Z" fill="#fff" stroke="#fff" stroke-width="0.3"/>
<line x1="316.12" y1="458.82" x2="342.74" y2="453.15" stroke="#3d2b93" stroke-width="0.9"/>
<line x1="333.24" y1="440.21" x2="359.86" y2="435.66" stroke="#1badbc" stroke-width="0.9"/>
<line x1="316.12" y1="458.82" x2="333.24" y2="440.21" stroke="#1badbc" stroke-width="0.9"/>
<line x1="342.74" y1="453.15" x2="359.86" y2="435.66" stroke="#1badbc" stroke-width="0.9"/>
<path d="M430.22,409.84 L473.96,400.06 L456.84,404.35ZM430.22,409.84 L473.96,400.06 L447.34,407.81Z" fill="#fff" stroke="#fff" stroke-width="0.3"/>
<line x1="430.22" y1="409.84" x2="456.84" y2="404.35" stroke="#efda4b" stroke-width="0.9"/>
<line x1="447.34" y1="407.81" x2="473.96" y2="400.06" stroke="#f2f042" stroke-width="0.9"/>
<line x1="430.22" y1="409.84" x2="447.34" y2="407.81" stroke="#f2f042" stroke-width="0.9"/>
<line x1="456.84" y1="404.35" x2="473.96" y2="400.06" stroke="#f4f63d" stroke-width="0.9"/>
<path d="M359.86,435.66 L403.6,415.52 L386.48,446.95ZM359.86,435.66 L403.6,415.52 L376.98,438.91Z" fill="#fff" stroke="#fff" stroke-width="0.3"/>
<line x1="359.86" y1="435.66" x2="386.48" y2="446.95" stroke="#1badbc" stroke-width="0.9"/>
<line x1="376.98" y1="438.91" x2="403.6" y2="415.52" stroke="#1badbc" stroke-width="0.9"/>
<line x1="359.86" y1="435.66" x2="376.98" y2="438.91" stroke="#1badbc" stroke-width="0.9"/>
<line x1="386.48" y1="446.95" x2="403.6" y2="415.52" stroke="#efda4b" stroke-width="0.9"/>
<path d="M289.5,464.12 L333.24,440.21 L316.12,458.82ZM289.5,464.12 L306.62,446.07 L333.24,440.21Z" fill="#fff" stroke="#fff" stroke-width="0.3"/>
<line x1="289.5" y1="464.12" x2="316.12" y2="458.82" stroke="#3d2b93" stroke-width="0.9"/>
<line x1="306.62" y1="446.07" x2="333.24" y2="440.21" stroke="#1badbc" stroke-width="0.9"/>
<line x1="289.5" y1="464.12" x2="306.62" y2="446.07" stroke="#1badbc" stroke-width="0.9"/>
<line x1="316.12" y1="458.82" x2="333.24" y2="440.21" stroke="#1badbc" stroke-width="0.9"/>
<path d="M403.6,415.52 L430.22,409.84 L447.34,407.81ZM403.6,415.52 L447.34,407.81 L420.72,415.56Z" fill="#fff" stroke="#fff" stroke-width="0.3"/>
<line x1="403.6" y1="415.52" x2="430.22" y2="409.84" stroke="#efda4b" stroke-width="0.9"/>
<line x1="420.72" y1="415.56" x2="447.34" y2="407.81" stroke="#f0eb45" stroke-width="0.9"/>
<line x1="403.6" y1="415.52" x2="420.72" y2="415.56" stroke="#f0eb45" stroke-width="0.9"/>
<line x1="430.22" y1="409.84" x2="447.34" y2="407.81" stroke="#f2f042" stroke-width="0.9"/>
<path d="M333.24,440.21 L359.86,435.66 L376.98,438.91ZM333.24,440.21 L376.98,438.91 L350.36,446.1Z" fill="#fff" stroke="#fff" stroke-width="0.3"/>
<line x1="333.24" y1="440.21" x2="359.86" y2="435.66" stroke="#1badbc" stroke-width="0.9"/>
<line x1="350.36" y1="446.1" x2="376.98" y2="438.91" stroke="#1badbc" stroke-width="0.9"/>
<line x1="333.24" y1="440.21" x2="350.36" y2="446.1" stroke="#1badbc" stroke-width="0.9"/>
<line x1="359.86" y1="435.66" x2="376.98" y2="438.91" stroke="#1badbc" stroke-width="0.9"/>
<path d="M447.34,407.81 L473.96,400.06 L491.08,405.57ZM447.34,407.81 L491.08,405.57 L464.46,412.94Z" fill="#fff" stroke="#fff" stroke-width="0.3"/>
<line x1="447.34" y1="407.81" x2="473.96" y2="400.06" stroke="#f2f042" stroke-width="0.9"/>
<line x1="464.46" y1="412.94" x2="491.08" y2="405.57" stroke="#f2f042" stroke-width="0.9"/>
<line x1="447.34" y1="407.81" x2="464.46" y2="412.94" stroke="#f2f042" stroke-width="0.9"/>
<line x1="473.96" y1="400.06" x2="491.08" y2="405.57" stroke="#f4f63d" stroke-width="0.9"/>
<path d="M376.98,438.91 L403.6,415.52 L420.72,415.56ZM376.98,438.91 L420.72,415.56 L394.1,435.38Z" fill="#fff" stroke="#fff" stroke-width="0.3"/>
<line x1="376.98" y1="438.91" x2="403.6" y2="415.52" stroke="#1badbc" stroke-width="0.9"/>
<line x1="394.1" y1="435.38" x2="420.72" y2="415.56" stroke="#30b5ad" stroke-width="0.9"/>
<line x1="376.98" y1="438.91" x2="394.1" y2="435.38" stroke="#30b5ad" stroke-width="0.9"/>
<line x1="403.6" y1="415.52" x2="420.72" y2="415.56" stroke="#f0eb45" stroke-width="0.9"/>
<path d="M306.62,446.07 L333.24,440.21 L350.36,446.1ZM306.62,446.07 L350.36,446.1 L323.74,451.77Z" fill="#fff" stroke="#fff" stroke-width="0.3"/>
<line x1="306.62" y1="446.07" x2="333.24" y2="440.21" stroke="#1badbc" stroke-width="0.9"/>
<line x1="323.74" y1="451.77" x2="350.36" y2="446.1" stroke="#1badbc" stroke-width="0.9"/>
<line x1="306.62" y1="446.07" x2="323.74" y2="451.77" stroke="#1badbc" stroke-width="0.9"/>
<line x1="333.24" y1="440.21" x2="350.36" y2="446.1" stroke="#1badbc" stroke-width="0.9"/>
<path d="M420.72,415.56 L447.34,407.81 L464.46,412.94ZM420.72,415.56 L464.46,412.94 L437.84,422.01Z" fill="#fff" stroke="#fff" stroke-width="0.3"/>
<line x1="420.72" y1="415.56" x2="447.34" y2="407.81" stroke="#f0eb45" stroke-width="0.9"/>
<line x1="437.84" y1="422.01" x2="464.46" y2="412.94" stroke="#efe548" stroke-width="0.9"/>
<line x1="420.72" y1="415.56" x2="437.84" y2="422.01" stroke="#efe548" stroke-width="0.9"/>
<line x1="447.34" y1="407.81" x2="464.46" y2="412.94" stroke="#f2f042" stroke-width="0.9"/>
<path d="M350.36,446.1 L376.98,438.91 L394.1,435.38ZM350.36,446.1 L394.1,435.38 L367.48,452.74Z" fill="#fff" stroke="#fff" stroke-width="0.3"/>
<line x1="350.36" y1="446.1" x2="376.98" y2="438.91" stroke="#1badbc" stroke-width="0.9"/>
<line x1="367.48" y1="452.74" x2="394.1" y2="435.38" stroke="#20abc1" stroke-width="0.9"/>
<line x1="350.36" y1="446.1" x2="367.48" y2="452.74" stroke="#20abc1" stroke-width="0.9"/>
<line x1="376.98" y1="438.91" x2="394.1" y2="435.38" stroke="#30b5ad" stroke-width="0.9"/>
<path d="M464.46,412.94 L491.08,405.57 L508.2,411.27ZM464.46,412.94 L508.2,411.27 L481.58,419.4Z" fill="#fff" stroke="#fff" stroke-width="0.3"/>
<line x1="464.46" y1="412.94" x2="491.08" y2="405.57" stroke="#f2f042" stroke-width="0.9"/>
<line x1="481.58" y1="419.4" x2="508.2" y2="411.27" stroke="#f2f042" stroke-width="0.9"/>
<line x1="464.46" y1="412.94" x2="481.58" y2="419.4" stroke="#f2f042" stroke-width="0.9"/>
<line x1="491.08" y1="405.57" x2="508.2" y2="411.27" stroke="#f4f63d" stroke-width="0.9"/>
<path d="M394.1,435.38 L420.72,415.56 L437.84,422.01ZM394.1,435.38 L437.84,422.01 L411.22,444.09Z" fill="#fff" stroke="#fff" stroke-width="0.3"/>
<line x1="394.1" y1="435.38" x2="420.72" y2="415.56" stroke="#30b5ad" stroke-width="0.9"/>
<line x1="411.22" y1="444.09" x2="437.84" y2="422.01" stroke="#24b2b2" stroke-width="0.9"/>
<line x1="394.1" y1="435.38" x2="411.22" y2="444.09" stroke="#24b2b2" stroke-width="0.9"/>
<line x1="420.72" y1="415.56" x2="437.84" y2="422.01" stroke="#efe548" stroke-width="0.9"/>
<path d="M323.74,451.77 L350.36,446.1 L367.48,452.74ZM323.74,451.77 L367.48,452.74 L340.86,458.23Z" fill="#fff" stroke="#fff" stroke-width="0.3"/>
<line x1="323.74" y1="451.77" x2="350.36" y2="446.1" stroke="#1badbc" stroke-width="0.9"/>
<line x1="340.86" y1="458.23" x2="367.48" y2="452.74" stroke="#20abc1" stroke-width="0.9"/>
<line x1="323.74" y1="451.77" x2="340.86" y2="458.23" stroke="#20abc1" stroke-width="0.9"/>
<line x1="350.36" y1="446.1" x2="367.48" y2="452.74" stroke="#20abc1" stroke-width="0.9"/>
<path d="M437.84,422.01 L464.46,412.94 L481.58,419.4ZM437.84,422.01 L481.58,419.4 L454.96,428.28Z" fill="#fff" stroke="#fff" stroke-width="0.3"/>
<line x1="437.84" y1="422.01" x2="464.46" y2="412.94" stroke="#efe548" stroke-width="0.9"/>
<line x1="454.96" y1="428.28" x2="481.58" y2="419.4" stroke="#efe548" stroke-width="0.9"/>
<line x1="437.84" y1="422.01" x2="454.96" y2="428.28" stroke="#efe548" stroke-width="0.9"/>
<line x1="464.46" y1="412.94" x2="481.58" y2="419.4" stroke="#f2f042" stroke-width="0.9"/>
<path d="M367.48,452.74 L394.1,435.38 L411.22,444.09ZM367.48,452.74 L411.22,444.09 L384.6,460.32Z" fill="#fff" stroke="#fff" stroke-width="0.3"/>
<line x1="367.48" y1="452.74" x2="394.1" y2="435.38" stroke="#20abc1" stroke-width="0.9"/>
<line x1="384.6" y1="460.32" x2="411.22" y2="444.09" stroke="#20abc1" stroke-width="0.9"/>
<line x1="367.48" y1="452.74" x2="384.6" y2="460.32" stroke="#20abc1" stroke-width="0.9"/>
<line x1="394.1" y1="435.38" x2="411.22" y2="444.09" stroke="#24b2b2" stroke-width="0.9"/>
<path d="M481.58,419.4 L508.2,411.27 L525.32,417.54ZM481.58,419.4 L525.32,417.54 L498.7,425.48Z" fill="#fff" stroke="#fff" stroke-width="0.3"/>
<line x1="481.58" y1="419.4" x2="508.2" y2="411.27" stroke="#f2f042" stroke-width="0.9"/>
<line x1="498.7" y1="425.48" x2="525.32" y2="417.54" stroke="#f2f042" stroke-width="0.9"/>
<line x1="481.58" y1="419.4" x2="498.7" y2="425.48" stroke="#f2f042" stroke-width="0.9"/>
<line x1="508.2" y1="411.27" x2="525.32" y2="417.54" stroke="#f4f63d" stroke-width="0.9"/>
<path d="M411.22,444.09 L437.84,422.01 L454.96,428.28ZM411.22,444.09 L454.96,428.28 L428.34,450.73Z" fill="#fff" stroke="#fff" stroke-width="0.3"/>
<line x1="411.22" y1="444.09" x2="437.84" y2="422.01" stroke="#24b2b2" stroke-width="0.9"/>
<line x1="428.34" y1="450.73" x2="454.96" y2="428.28" stroke="#24b2b2" stroke-width="0.9"/>
<line x1="411.22" y1="444.09" x2="428.34" y2="450.73" stroke="#24b2b2" stroke-width="0.9"/>
<line x1="437.84" y1="422.01" x2="454.96" y2="428.28" stroke="#efe548" stroke-width="0.9"/>
<path d="M340.86,458.23 L367.48,452.74 L384.6,460.32ZM340.86,458.23 L384.6,460.32 L357.98,465.62Z" fill="#fff" stroke="#fff" stroke-width="0.3"/>
<line x1="340.86" y1="458.23" x2="367.48" y2="452.74" stroke="#20abc1" stroke-width="0.9"/>
<line x1="357.98" y1="465.62" x2="384.6" y2="460.32" stroke="#20abc1" stroke-width="0.9"/>
<line x1="340.86" y1="458.23" x2="357.98" y2="465.62" stroke="#20abc1" stroke-width="0.9"/>
<line x1="367.48" y1="452.74" x2="384.6" y2="460.32" stroke="#20abc1" stroke-width="0.9"/>
<path d="M454.96,428.28 L481.58,419.4 L498.7,425.48ZM454.96,428.28 L498.7,425.48 L472.08,434.36Z" fill="#fff" stroke="#fff" stroke-width="0.3"/>
<line x1="454.96" y1="428.28" x2="481.58" y2="419.4" stroke="#efe548" stroke-width="0.9"/>
<line x1="472.08" y1="434.36" x2="498.7" y2="425.48" stroke="#efe548" stroke-width="0.9"/>
<line x1="454.96" y1="428.28" x2="472.08" y2="434.36" stroke="#efe548" stroke-width="0.9"/>
<line x1="481.58" y1="419.4" x2="498.7" y2="425.48" stroke="#f2f042" stroke-width="0.9"/>
<path d="M384.6,460.32 L411.22,444.09 L428.34,450.73ZM384.6,460.32 L428.34,450.73 L401.72,469.04Z" fill="#fff" stroke="#fff" stroke-width="0.3"/>
<line x1="384.6" y1="460.32" x2="411.22" y2="444.09" stroke="#20abc1" stroke-width="0.9"/>
<line x1="401.72" y1="469.04" x2="428.34" y2="450.73" stroke="#29a8c6" stroke-width="0.9"/>
<line x1="384.6" y1="460.32" x2="401.72" y2="469.04" stroke="#29a8c6" stroke-width="0.9"/>
<line x1="411.22" y1="444.09" x2="428.34" y2="450.73" stroke="#24b2b2" stroke-width="0.9"/>
<path d="M428.34,450.73 L454.96,428.28 L472.08,434.36ZM428.34,450.73 L472.08,434.36 L445.46,457.38Z" fill="#fff" stroke="#fff" stroke-width="0.3"/>
<line x1="428.34" y1="450.73" x2="454.96" y2="428.28" stroke="#24b2b2" stroke-width="0.9"/>
<line x1="445.46" y1="457.38" x2="472.08" y2="434.36" stroke="#24b2b2" stroke-width="0.9"/>
<line x1="428.34" y1="450.73" x2="445.46" y2="457.38" stroke="#24b2b2" stroke-width="0.9"/>
<line x1="454.96" y1="428.28" x2="472.08" y2="434.36" stroke="#efe548" stroke-width="0.9"/>
<path d="M357.98,465.62 L384.6,460.32 L401.72,469.04ZM357.98,465.62 L401.72,469.04 L375.1,473.96Z" fill="#fff" stroke="#fff" stroke-width="0.3"/>
<line x1="357.98" y1="465.62" x2="384.6" y2="460.32" stroke="#20abc1" stroke-width="0.9"/>
<line x1="375.1" y1="473.96" x2="401.72" y2="469.04" stroke="#29a8c6" stroke-width="0.9"/>
<line x1="357.98" y1="465.62" x2="375.1" y2="473.96" stroke="#29a8c6" stroke-width="0.9"/>
<line x1="384.6" y1="460.32" x2="401.72" y2="469.04" stroke="#29a8c6" stroke-width="0.9"/>
<path d="M401.72,469.04 L428.34,450.73 L445.46,457.38ZM401.72,469.04 L445.46,457.38 L418.84,475.31Z" fill="#fff" stroke="#fff" stroke-width="0.3"/>
<line x1="401.72" y1="469.04" x2="428.34" y2="450.73" stroke="#29a8c6" stroke-width="0.9"/>
<line x1="418.84" y1="475.31" x2="445.46" y2="457.38" stroke="#29a8c6" stroke-width="0.9"/>
<line x1="401.72" y1="469.04" x2="418.84" y2="475.31" stroke="#29a8c6" stroke-width="0.9"/>
<line x1="428.34" y1="450.73" x2="445.46" y2="457.38" stroke="#24b2b2" stroke-width="0.9"/>
<path d="M375.1,473.96 L401.72,469.04 L418.84,475.31ZM375.1,473.96 L418.84,475.31 L392.22,481.17Z" fill="#fff" stroke="#fff" stroke-width="0.3"/>
<line x1="375.1" y1="473.96" x2="401.72" y2="469.04" stroke="#29a8c6" stroke-width="0.9"/>
<line x1="392.22" y1="481.17" x2="418.84" y2="475.31" stroke="#29a8c6" stroke-width="0.9"/>
<line x1="375.1" y1="473.96" x2="392.22" y2="481.17" stroke="#29a8c6" stroke-width="0.9"/>
<line x1="401.72" y1="469.04" x2="418.84" y2="475.31" stroke="#29a8c6" stroke-width="0.9"/>
<line x1="289.5" y1="476" x2="289.5" y2="400.6" stroke="#5a5a5a" stroke-width="0.9"/>
<line x1="289.5" y1="476" x2="392.22" y2="510.2" stroke="#5a5a5a" stroke-width="0.9"/>
<line x1="392.22" y1="510.2" x2="525.32" y2="483.7" stroke="#5a5a5a" stroke-width="0.9"/>
<line x1="289.5" y1="476" x2="286.5" y2="475" stroke="#262626" stroke-width="0.6"/>
<text x="284.6" y="477.4" font-size="5.4" text-anchor="end" fill="#3a3a3a">40</text>
<line x1="289.5" y1="457.15" x2="286.5" y2="456.15" stroke="#262626" stroke-width="0.6"/>
<text x="284.6" y="458.55" font-size="5.4" text-anchor="end" fill="#3a3a3a">50</text>
<line x1="289.5" y1="438.3" x2="286.5" y2="437.3" stroke="#262626" stroke-width="0.6"/>
<text x="284.6" y="439.7" font-size="5.4" text-anchor="end" fill="#3a3a3a">60</text>
<line x1="289.5" y1="419.45" x2="286.5" y2="418.45" stroke="#262626" stroke-width="0.6"/>
<text x="284.6" y="420.85" font-size="5.4" text-anchor="end" fill="#3a3a3a">70</text>
<line x1="289.5" y1="400.6" x2="286.5" y2="399.6" stroke="#262626" stroke-width="0.6"/>
<text x="284.6" y="402" font-size="5.4" text-anchor="end" fill="#3a3a3a">80</text>
<line x1="289.5" y1="476" x2="287.5" y2="476.4" stroke="#262626" stroke-width="0.6"/>
<text x="284.3" y="482.8" font-size="5.0" text-anchor="end" fill="#3a3a3a">1e0</text>
<line x1="306.62" y1="481.7" x2="304.62" y2="482.1" stroke="#262626" stroke-width="0.6"/>
<text x="301.42" y="488.5" font-size="5.0" text-anchor="end" fill="#3a3a3a">1e-1</text>
<line x1="323.74" y1="487.4" x2="321.74" y2="487.8" stroke="#262626" stroke-width="0.6"/>
<text x="318.54" y="494.2" font-size="5.0" text-anchor="end" fill="#3a3a3a">1e-2</text>
<line x1="340.86" y1="493.1" x2="338.86" y2="493.5" stroke="#262626" stroke-width="0.6"/>
<text x="335.66" y="499.9" font-size="5.0" text-anchor="end" fill="#3a3a3a">1e-3</text>
<line x1="357.98" y1="498.8" x2="355.98" y2="499.2" stroke="#262626" stroke-width="0.6"/>
<text x="352.78" y="505.6" font-size="5.0" text-anchor="end" fill="#3a3a3a">1e-4</text>
<line x1="375.1" y1="504.5" x2="373.1" y2="504.9" stroke="#262626" stroke-width="0.6"/>
<text x="369.9" y="511.3" font-size="5.0" text-anchor="end" fill="#3a3a3a">1e-5</text>
<line x1="392.22" y1="510.2" x2="390.22" y2="510.6" stroke="#262626" stroke-width="0.6"/>
<text x="387.02" y="517" font-size="5.0" text-anchor="end" fill="#3a3a3a">1e-6</text>
<line x1="392.22" y1="510.2" x2="394.12" y2="510.83" stroke="#262626" stroke-width="0.6"/>
<text x="397.62" y="517.5" font-size="5.0" text-anchor="start" fill="#3a3a3a">1e-6</text>
<line x1="418.84" y1="504.9" x2="420.74" y2="505.53" stroke="#262626" stroke-width="0.6"/>
<text x="424.24" y="512.2" font-size="5.0" text-anchor="start" fill="#3a3a3a">1e-5</text>
<line x1="445.46" y1="499.6" x2="447.36" y2="500.23" stroke="#262626" stroke-width="0.6"/>
<text x="450.86" y="506.9" font-size="5.0" text-anchor="start" fill="#3a3a3a">1e-4</text>
<line x1="472.08" y1="494.3" x2="473.98" y2="494.93" stroke="#262626" stroke-width="0.6"/>
<text x="477.48" y="501.6" font-size="5.0" text-anchor="start" fill="#3a3a3a">1e-3</text>
<line x1="498.7" y1="489" x2="500.6" y2="489.63" stroke="#262626" stroke-width="0.6"/>
<text x="504.1" y="496.3" font-size="5.0" text-anchor="start" fill="#3a3a3a">1e-2</text>
<line x1="525.32" y1="483.7" x2="527.22" y2="484.33" stroke="#262626" stroke-width="0.6"/>
<text x="530.72" y="491" font-size="5.0" text-anchor="start" fill="#3a3a3a">1e-1</text>
<text x="341" y="517.5" font-size="5.2" fill="#3a3a3a">&#955;2</text>
<text x="446.2" y="520.6" font-size="5.2" fill="#3a3a3a">&#955;1</text>
<text x="0" y="0" transform="translate(276.3,439) rotate(-90)" font-size="5.6" text-anchor="middle" fill="#3a3a3a">Classification accuracy (%)</text>
<text x="403.6" y="541.6" font-size="9.4" font-weight="bold" text-anchor="middle" fill="#2e2e2e" font-family="'Liberation Serif', 'Times New Roman', serif">(f)</text>
</svg>
</body></html>
